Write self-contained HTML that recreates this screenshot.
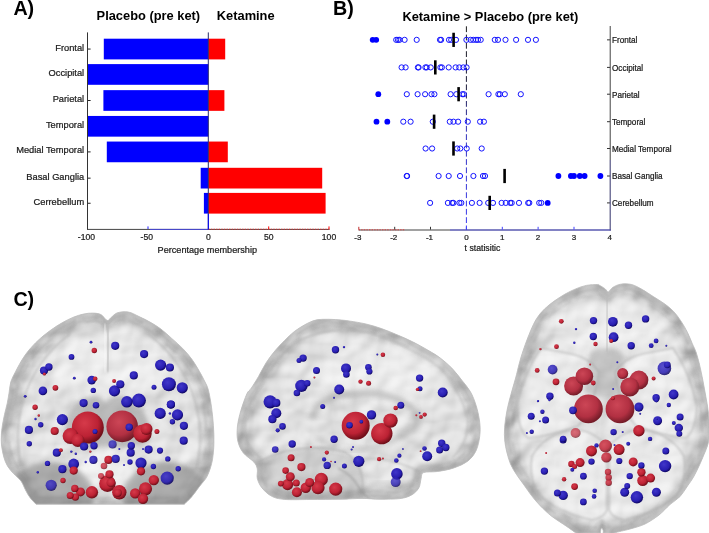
<!DOCTYPE html>
<html lang="en"><head><meta charset="utf-8"><title>Figure</title>
<style>html,body{margin:0;padding:0;background:#fff}body{width:709px;height:533px;overflow:hidden}svg{display:block}text{font-family:"Liberation Sans",Arial,sans-serif;fill:#1a1a1a;stroke:#1a1a1a;stroke-width:0.22px}.b{font-weight:bold;fill:#000;stroke:none}</style></head><body>
<svg width="709" height="533" viewBox="0 0 709 533">
<rect width="709" height="533" fill="#fff"/>
<text class="b" x="13.4" y="14.5" font-size="19.7">A)</text>
<text class="b" x="333.0" y="14.5" font-size="19.7">B)</text>
<text class="b" x="13.4" y="306.1" font-size="19.7">C)</text>
<text class="b" x="96.6" y="20.2" font-size="12.85">Placebo (pre ket)</text>
<text class="b" x="216.8" y="20.2" font-size="12.85">Ketamine</text>
<rect x="88.0" y="48.55" width="2.6" height="1" fill="#222"/>
<rect x="103.8" y="38.70" width="104.5" height="20.7" fill="#0000ff"/>
<rect x="208.3" y="38.70" width="16.9" height="20.7" fill="#ff0000"/>
<text x="84.2" y="50.55" font-size="9.3" text-anchor="end">Frontal</text>
<rect x="88.0" y="73.95" width="2.6" height="1" fill="#222"/>
<rect x="88.0" y="64.10" width="120.3" height="20.7" fill="#0000ff"/>
<text x="84.2" y="75.95" font-size="9.3" text-anchor="end">Occipital</text>
<rect x="88.0" y="100.00" width="2.6" height="1" fill="#222"/>
<rect x="103.4" y="90.15" width="104.9" height="20.7" fill="#0000ff"/>
<rect x="208.3" y="90.15" width="16.1" height="20.7" fill="#ff0000"/>
<text x="84.2" y="102.00" font-size="9.3" text-anchor="end">Parietal</text>
<rect x="88.0" y="125.80" width="2.6" height="1" fill="#222"/>
<rect x="88.0" y="115.95" width="120.3" height="20.7" fill="#0000ff"/>
<text x="84.2" y="127.80" font-size="9.3" text-anchor="end">Temporal</text>
<rect x="88.0" y="151.40" width="2.6" height="1" fill="#222"/>
<rect x="106.8" y="141.55" width="101.5" height="20.7" fill="#0000ff"/>
<rect x="208.3" y="141.55" width="19.5" height="20.7" fill="#ff0000"/>
<text x="84.2" y="153.40" font-size="9.3" text-anchor="end">Medial Temporal</text>
<rect x="88.0" y="177.65" width="2.6" height="1" fill="#222"/>
<rect x="200.7" y="167.80" width="7.6" height="20.7" fill="#0000ff"/>
<rect x="208.3" y="167.80" width="113.9" height="20.7" fill="#ff0000"/>
<text x="84.2" y="179.65" font-size="9.3" text-anchor="end">Basal Ganglia</text>
<rect x="88.0" y="202.75" width="2.6" height="1" fill="#222"/>
<rect x="203.9" y="192.90" width="4.4" height="20.7" fill="#0000ff"/>
<rect x="208.3" y="192.90" width="117.3" height="20.7" fill="#ff0000"/>
<text x="84.2" y="204.75" font-size="9.3" text-anchor="end">Cerrebellum</text>
<rect x="87.0" y="32.4" width="1" height="197.5" fill="#333"/>
<rect x="87.0" y="228.9" width="242.6" height="1" fill="#444"/>
<rect x="150" y="228.9" width="58.3" height="1" fill="#4040ff" opacity="0.75"/>
<line x1="208.3" y1="229.2" x2="329.6" y2="229.2" stroke="#ff2020" stroke-width="0.9" stroke-dasharray="1.4 1.2" opacity="0.9"/>
<rect x="207.8" y="32.4" width="1" height="197.0" fill="#2a2a6a"/>
<rect x="207.8" y="214" width="1" height="15.4" fill="#0000ff"/>
<text x="86.4" y="240.4" font-size="8.6" text-anchor="middle">-100</text>
<rect x="147.5" y="226.4" width="1" height="2.6" fill="#2020ff"/>
<text x="146.8" y="240.4" font-size="8.6" text-anchor="middle">-50</text>
<text x="208.3" y="240.4" font-size="8.6" text-anchor="middle">0</text>
<rect x="268.2" y="226.4" width="1" height="2.6" fill="#ff0000"/>
<text x="268.7" y="240.4" font-size="8.6" text-anchor="middle">50</text>
<rect x="328.5" y="226.4" width="1" height="2.6" fill="#ff0000"/>
<text x="329.0" y="240.4" font-size="8.6" text-anchor="middle">100</text>
<text x="207.3" y="252.6" font-size="9.15" text-anchor="middle">Percentage membership</text>
<text class="b" x="402.4" y="20.9" font-size="12.85">Ketamine &gt; Placebo (pre ket)</text>
<defs><linearGradient id="zl" gradientUnits="userSpaceOnUse" x1="0" y1="26.0" x2="0" y2="230.0"><stop offset="0" stop-color="#1c1c1c"/><stop offset="0.3" stop-color="#1c1c3a"/><stop offset="0.5" stop-color="#3030b8"/><stop offset="1" stop-color="#3a3af0"/></linearGradient></defs>
<path d="M466.4,26.3V230.0" stroke="url(#zl)" stroke-width="1" stroke-dasharray="5.8 2.5" fill="none"/>
<circle cx="396.2" cy="39.85" r="2.6" fill="none" stroke="#1414ff" stroke-width="1.0"/>
<circle cx="398.0" cy="39.85" r="2.6" fill="none" stroke="#1414ff" stroke-width="1.0"/>
<circle cx="399.5" cy="39.85" r="2.6" fill="none" stroke="#1414ff" stroke-width="1.0"/>
<circle cx="404.6" cy="39.85" r="2.6" fill="none" stroke="#1414ff" stroke-width="1.0"/>
<circle cx="416.7" cy="39.85" r="2.6" fill="none" stroke="#1414ff" stroke-width="1.0"/>
<circle cx="440.0" cy="39.85" r="2.6" fill="none" stroke="#1414ff" stroke-width="1.0"/>
<circle cx="441.1" cy="39.85" r="2.6" fill="none" stroke="#1414ff" stroke-width="1.0"/>
<circle cx="449.0" cy="39.85" r="2.6" fill="none" stroke="#1414ff" stroke-width="1.0"/>
<circle cx="451.2" cy="39.85" r="2.6" fill="none" stroke="#1414ff" stroke-width="1.0"/>
<circle cx="456.0" cy="39.85" r="2.6" fill="none" stroke="#1414ff" stroke-width="1.0"/>
<circle cx="466.4" cy="39.85" r="2.6" fill="none" stroke="#1414ff" stroke-width="1.0"/>
<circle cx="470.6" cy="39.85" r="2.6" fill="none" stroke="#1414ff" stroke-width="1.0"/>
<circle cx="473.2" cy="39.85" r="2.6" fill="none" stroke="#1414ff" stroke-width="1.0"/>
<circle cx="476.0" cy="39.85" r="2.6" fill="none" stroke="#1414ff" stroke-width="1.0"/>
<circle cx="478.0" cy="39.85" r="2.6" fill="none" stroke="#1414ff" stroke-width="1.0"/>
<circle cx="480.7" cy="39.85" r="2.6" fill="none" stroke="#1414ff" stroke-width="1.0"/>
<circle cx="494.8" cy="39.85" r="2.6" fill="none" stroke="#1414ff" stroke-width="1.0"/>
<circle cx="498.0" cy="39.85" r="2.6" fill="none" stroke="#1414ff" stroke-width="1.0"/>
<circle cx="505.5" cy="39.85" r="2.6" fill="none" stroke="#1414ff" stroke-width="1.0"/>
<circle cx="516.1" cy="39.85" r="2.6" fill="none" stroke="#1414ff" stroke-width="1.0"/>
<circle cx="528.0" cy="39.85" r="2.6" fill="none" stroke="#1414ff" stroke-width="1.0"/>
<circle cx="535.9" cy="39.85" r="2.6" fill="none" stroke="#1414ff" stroke-width="1.0"/>
<circle cx="372.7" cy="39.85" r="2.9" fill="#0000ff"/>
<circle cx="376.2" cy="39.85" r="2.9" fill="#0000ff"/>
<rect x="452.3" y="32.75" width="2.6" height="14.2" fill="#000"/>
<rect x="607.0" y="39.35" width="3.2" height="1" fill="#333"/>
<text x="612.0" y="43.15" font-size="8.15">Frontal</text>
<circle cx="401.6" cy="67.40" r="2.6" fill="none" stroke="#1414ff" stroke-width="1.0"/>
<circle cx="405.6" cy="67.40" r="2.6" fill="none" stroke="#1414ff" stroke-width="1.0"/>
<circle cx="417.9" cy="67.40" r="2.6" fill="none" stroke="#1414ff" stroke-width="1.0"/>
<circle cx="418.6" cy="67.40" r="2.6" fill="none" stroke="#1414ff" stroke-width="1.0"/>
<circle cx="425.4" cy="67.40" r="2.6" fill="none" stroke="#1414ff" stroke-width="1.0"/>
<circle cx="426.7" cy="67.40" r="2.6" fill="none" stroke="#1414ff" stroke-width="1.0"/>
<circle cx="430.7" cy="67.40" r="2.6" fill="none" stroke="#1414ff" stroke-width="1.0"/>
<circle cx="440.4" cy="67.40" r="2.6" fill="none" stroke="#1414ff" stroke-width="1.0"/>
<circle cx="441.9" cy="67.40" r="2.6" fill="none" stroke="#1414ff" stroke-width="1.0"/>
<circle cx="448.7" cy="67.40" r="2.6" fill="none" stroke="#1414ff" stroke-width="1.0"/>
<circle cx="455.6" cy="67.40" r="2.6" fill="none" stroke="#1414ff" stroke-width="1.0"/>
<circle cx="459.3" cy="67.40" r="2.6" fill="none" stroke="#1414ff" stroke-width="1.0"/>
<circle cx="463.3" cy="67.40" r="2.6" fill="none" stroke="#1414ff" stroke-width="1.0"/>
<circle cx="466.6" cy="67.40" r="2.6" fill="none" stroke="#1414ff" stroke-width="1.0"/>
<rect x="434.0" y="60.30" width="2.6" height="14.2" fill="#000"/>
<rect x="607.0" y="66.90" width="3.2" height="1" fill="#333"/>
<text x="612.0" y="70.70" font-size="8.15">Occipital</text>
<circle cx="406.8" cy="94.20" r="2.6" fill="none" stroke="#1414ff" stroke-width="1.0"/>
<circle cx="417.6" cy="94.20" r="2.6" fill="none" stroke="#1414ff" stroke-width="1.0"/>
<circle cx="425.1" cy="94.20" r="2.6" fill="none" stroke="#1414ff" stroke-width="1.0"/>
<circle cx="431.5" cy="94.20" r="2.6" fill="none" stroke="#1414ff" stroke-width="1.0"/>
<circle cx="434.4" cy="94.20" r="2.6" fill="none" stroke="#1414ff" stroke-width="1.0"/>
<circle cx="450.6" cy="94.20" r="2.6" fill="none" stroke="#1414ff" stroke-width="1.0"/>
<circle cx="456.3" cy="94.20" r="2.6" fill="none" stroke="#1414ff" stroke-width="1.0"/>
<circle cx="462.3" cy="94.20" r="2.6" fill="none" stroke="#1414ff" stroke-width="1.0"/>
<circle cx="463.8" cy="94.20" r="2.6" fill="none" stroke="#1414ff" stroke-width="1.0"/>
<circle cx="488.6" cy="94.20" r="2.6" fill="none" stroke="#1414ff" stroke-width="1.0"/>
<circle cx="498.4" cy="94.20" r="2.6" fill="none" stroke="#1414ff" stroke-width="1.0"/>
<circle cx="499.9" cy="94.20" r="2.6" fill="none" stroke="#1414ff" stroke-width="1.0"/>
<circle cx="504.8" cy="94.20" r="2.6" fill="none" stroke="#1414ff" stroke-width="1.0"/>
<circle cx="520.8" cy="94.20" r="2.6" fill="none" stroke="#1414ff" stroke-width="1.0"/>
<circle cx="378.3" cy="94.20" r="2.9" fill="#0000ff"/>
<rect x="457.3" y="87.10" width="2.6" height="14.2" fill="#000"/>
<rect x="607.0" y="93.70" width="3.2" height="1" fill="#333"/>
<text x="612.0" y="97.50" font-size="8.15">Parietal</text>
<circle cx="403.3" cy="121.70" r="2.6" fill="none" stroke="#1414ff" stroke-width="1.0"/>
<circle cx="410.6" cy="121.70" r="2.6" fill="none" stroke="#1414ff" stroke-width="1.0"/>
<circle cx="432.8" cy="121.70" r="2.6" fill="none" stroke="#1414ff" stroke-width="1.0"/>
<circle cx="449.8" cy="121.70" r="2.6" fill="none" stroke="#1414ff" stroke-width="1.0"/>
<circle cx="453.5" cy="121.70" r="2.6" fill="none" stroke="#1414ff" stroke-width="1.0"/>
<circle cx="458.1" cy="121.70" r="2.6" fill="none" stroke="#1414ff" stroke-width="1.0"/>
<circle cx="467.8" cy="121.70" r="2.6" fill="none" stroke="#1414ff" stroke-width="1.0"/>
<circle cx="480.1" cy="121.70" r="2.6" fill="none" stroke="#1414ff" stroke-width="1.0"/>
<circle cx="483.9" cy="121.70" r="2.6" fill="none" stroke="#1414ff" stroke-width="1.0"/>
<circle cx="376.5" cy="121.70" r="2.9" fill="#0000ff"/>
<circle cx="387.3" cy="121.70" r="2.9" fill="#0000ff"/>
<rect x="432.8" y="114.60" width="2.6" height="14.2" fill="#000"/>
<rect x="607.0" y="121.20" width="3.2" height="1" fill="#333"/>
<text x="612.0" y="125.00" font-size="8.15">Temporal</text>
<circle cx="425.6" cy="148.50" r="2.6" fill="none" stroke="#1414ff" stroke-width="1.0"/>
<circle cx="432.1" cy="148.50" r="2.6" fill="none" stroke="#1414ff" stroke-width="1.0"/>
<circle cx="457.2" cy="148.50" r="2.6" fill="none" stroke="#1414ff" stroke-width="1.0"/>
<circle cx="460.3" cy="148.50" r="2.6" fill="none" stroke="#1414ff" stroke-width="1.0"/>
<circle cx="466.7" cy="148.50" r="2.6" fill="none" stroke="#1414ff" stroke-width="1.0"/>
<circle cx="481.7" cy="148.50" r="2.6" fill="none" stroke="#1414ff" stroke-width="1.0"/>
<rect x="452.2" y="141.40" width="2.6" height="14.2" fill="#000"/>
<rect x="607.0" y="148.00" width="3.2" height="1" fill="#333"/>
<text x="612.0" y="151.80" font-size="8.15">Medial Temporal</text>
<circle cx="406.7" cy="176.00" r="2.6" fill="none" stroke="#1414ff" stroke-width="1.0"/>
<circle cx="407.1" cy="176.00" r="2.6" fill="none" stroke="#1414ff" stroke-width="1.0"/>
<circle cx="438.6" cy="176.00" r="2.6" fill="none" stroke="#1414ff" stroke-width="1.0"/>
<circle cx="448.7" cy="176.00" r="2.6" fill="none" stroke="#1414ff" stroke-width="1.0"/>
<circle cx="460.0" cy="176.00" r="2.6" fill="none" stroke="#1414ff" stroke-width="1.0"/>
<circle cx="473.4" cy="176.00" r="2.6" fill="none" stroke="#1414ff" stroke-width="1.0"/>
<circle cx="483.0" cy="176.00" r="2.6" fill="none" stroke="#1414ff" stroke-width="1.0"/>
<circle cx="485.0" cy="176.00" r="2.6" fill="none" stroke="#1414ff" stroke-width="1.0"/>
<circle cx="558.4" cy="176.00" r="2.9" fill="#0000ff"/>
<circle cx="570.9" cy="176.00" r="2.9" fill="#0000ff"/>
<circle cx="574.0" cy="176.00" r="2.9" fill="#0000ff"/>
<circle cx="579.8" cy="176.00" r="2.9" fill="#0000ff"/>
<circle cx="584.6" cy="176.00" r="2.9" fill="#0000ff"/>
<circle cx="600.4" cy="176.00" r="2.9" fill="#0000ff"/>
<rect x="503.3" y="168.90" width="2.6" height="14.2" fill="#000"/>
<rect x="607.0" y="175.50" width="3.2" height="1" fill="#333"/>
<text x="612.0" y="179.30" font-size="8.15">Basal Ganglia</text>
<circle cx="430.1" cy="202.90" r="2.6" fill="none" stroke="#1414ff" stroke-width="1.0"/>
<circle cx="447.9" cy="202.90" r="2.6" fill="none" stroke="#1414ff" stroke-width="1.0"/>
<circle cx="452.1" cy="202.90" r="2.6" fill="none" stroke="#1414ff" stroke-width="1.0"/>
<circle cx="453.4" cy="202.90" r="2.6" fill="none" stroke="#1414ff" stroke-width="1.0"/>
<circle cx="459.4" cy="202.90" r="2.6" fill="none" stroke="#1414ff" stroke-width="1.0"/>
<circle cx="461.3" cy="202.90" r="2.6" fill="none" stroke="#1414ff" stroke-width="1.0"/>
<circle cx="471.9" cy="202.90" r="2.6" fill="none" stroke="#1414ff" stroke-width="1.0"/>
<circle cx="479.6" cy="202.90" r="2.6" fill="none" stroke="#1414ff" stroke-width="1.0"/>
<circle cx="488.2" cy="202.90" r="2.6" fill="none" stroke="#1414ff" stroke-width="1.0"/>
<circle cx="493.0" cy="202.90" r="2.6" fill="none" stroke="#1414ff" stroke-width="1.0"/>
<circle cx="501.6" cy="202.90" r="2.6" fill="none" stroke="#1414ff" stroke-width="1.0"/>
<circle cx="505.8" cy="202.90" r="2.6" fill="none" stroke="#1414ff" stroke-width="1.0"/>
<circle cx="510.2" cy="202.90" r="2.6" fill="none" stroke="#1414ff" stroke-width="1.0"/>
<circle cx="511.7" cy="202.90" r="2.6" fill="none" stroke="#1414ff" stroke-width="1.0"/>
<circle cx="519.0" cy="202.90" r="2.6" fill="none" stroke="#1414ff" stroke-width="1.0"/>
<circle cx="528.2" cy="202.90" r="2.6" fill="none" stroke="#1414ff" stroke-width="1.0"/>
<circle cx="529.3" cy="202.90" r="2.6" fill="none" stroke="#1414ff" stroke-width="1.0"/>
<circle cx="539.2" cy="202.90" r="2.6" fill="none" stroke="#1414ff" stroke-width="1.0"/>
<circle cx="541.3" cy="202.90" r="2.6" fill="none" stroke="#1414ff" stroke-width="1.0"/>
<circle cx="547.7" cy="202.90" r="2.9" fill="#0000ff"/>
<rect x="488.4" y="195.80" width="2.6" height="14.2" fill="#000"/>
<rect x="607.0" y="202.40" width="3.2" height="1" fill="#333"/>
<text x="612.0" y="206.20" font-size="8.15">Cerebellum</text>
<rect x="609.7" y="26.0" width="1" height="204.5" fill="#444"/>
<rect x="609.7" y="160" width="1" height="70.5" fill="#6060ff" opacity="0.35"/>
<rect x="358.6" y="229.5" width="252.1" height="1" fill="#444"/>
<rect x="450" y="229.5" width="160.7" height="1" fill="#5050ff" opacity="0.75"/>
<line x1="358.6" y1="229.8" x2="405" y2="229.8" stroke="#ff2020" stroke-width="0.9" stroke-dasharray="1.4 1.2" opacity="0.85"/>
<rect x="358.3" y="226.8" width="1" height="2.8" fill="#c03030"/>
<text x="357.8" y="240.0" font-size="8" text-anchor="middle">-3</text>
<rect x="394.2" y="226.8" width="1" height="2.8" fill="#333"/>
<text x="393.7" y="240.0" font-size="8" text-anchor="middle">-2</text>
<rect x="430.0" y="226.8" width="1" height="2.8" fill="#333"/>
<text x="429.5" y="240.0" font-size="8" text-anchor="middle">-1</text>
<rect x="465.9" y="226.8" width="1" height="2.8" fill="#4040ff"/>
<text x="466.4" y="240.0" font-size="8" text-anchor="middle">0</text>
<rect x="501.8" y="226.8" width="1" height="2.8" fill="#4040ff"/>
<text x="502.2" y="240.0" font-size="8" text-anchor="middle">1</text>
<rect x="537.6" y="226.8" width="1" height="2.8" fill="#4040ff"/>
<text x="538.1" y="240.0" font-size="8" text-anchor="middle">2</text>
<rect x="573.5" y="226.8" width="1" height="2.8" fill="#4040ff"/>
<text x="574.0" y="240.0" font-size="8" text-anchor="middle">3</text>
<text x="609.8" y="240.0" font-size="8" text-anchor="middle">4</text>
<text x="464.6" y="250.9" font-size="8.7">t statisitic</text>
<defs>
<radialGradient id="gr" cx="0.40" cy="0.36" r="0.64"><stop offset="0" stop-color="#d63a4a"/><stop offset="0.65" stop-color="#bc2234"/><stop offset="1" stop-color="#6e0e18"/></radialGradient>
<radialGradient id="gd" cx="0.40" cy="0.36" r="0.64"><stop offset="0" stop-color="#cc4656"/><stop offset="0.65" stop-color="#b23042"/><stop offset="1" stop-color="#741c28"/></radialGradient>
<radialGradient id="gb" cx="0.40" cy="0.36" r="0.64"><stop offset="0" stop-color="#4036ca"/><stop offset="0.7" stop-color="#281eb0"/><stop offset="1" stop-color="#0e0660"/></radialGradient>
<filter id="bl2" x="-20%" y="-20%" width="140%" height="140%"><feGaussianBlur stdDeviation="2"/></filter>
<filter id="bl4" x="-20%" y="-20%" width="140%" height="140%"><feGaussianBlur stdDeviation="4"/></filter>
<filter id="bl7" x="-30%" y="-30%" width="160%" height="160%"><feGaussianBlur stdDeviation="7"/></filter>
<filter id="bl1" x="-20%" y="-20%" width="140%" height="140%"><feGaussianBlur stdDeviation="0.8"/></filter>
<filter id="bump1" x="0" y="0" width="100%" height="100%" color-interpolation-filters="sRGB"><feTurbulence type="fractalNoise" baseFrequency="0.045" numOctaves="2" seed="3" result="n"/><feDiffuseLighting in="n" surfaceScale="2.4" diffuseConstant="1.0" lighting-color="#f0f0f0" result="l"><feDistantLight azimuth="240" elevation="60"/></feDiffuseLighting><feComposite in="l" in2="SourceGraphic" operator="in"/></filter>
<filter id="bump2" x="0" y="0" width="100%" height="100%" color-interpolation-filters="sRGB"><feTurbulence type="fractalNoise" baseFrequency="0.045" numOctaves="2" seed="11" result="n"/><feDiffuseLighting in="n" surfaceScale="2.4" diffuseConstant="1.0" lighting-color="#f0f0f0" result="l"><feDistantLight azimuth="240" elevation="60"/></feDiffuseLighting><feComposite in="l" in2="SourceGraphic" operator="in"/></filter>
<filter id="bump3" x="0" y="0" width="100%" height="100%" color-interpolation-filters="sRGB"><feTurbulence type="fractalNoise" baseFrequency="0.045" numOctaves="2" seed="7" result="n"/><feDiffuseLighting in="n" surfaceScale="2.4" diffuseConstant="1.0" lighting-color="#f0f0f0" result="l"><feDistantLight azimuth="240" elevation="60"/></feDiffuseLighting><feComposite in="l" in2="SourceGraphic" operator="in"/></filter>
<clipPath id="c1"><path d="M36.0,504.2C35.0,503.1 31.8,500.0 30.0,497.6C28.2,495.2 27.0,492.8 25.5,490.0C24.0,487.2 23.0,483.8 21.0,481.0C19.0,478.2 15.8,476.0 13.5,473.5C11.2,471.0 9.1,468.8 7.5,466.0C5.9,463.2 4.8,460.5 3.8,457.0C2.8,453.5 1.9,448.7 1.5,445.0C1.1,441.3 1.3,438.2 1.4,435.0C1.5,431.8 1.8,429.4 2.3,426.0C2.8,422.6 3.7,418.3 4.5,414.5C5.3,410.7 6.5,406.8 7.3,403.0C8.1,399.2 8.6,395.5 9.2,392.0C9.8,388.5 9.8,385.4 10.8,382.0C11.9,378.6 13.4,375.7 15.5,371.7C17.6,367.7 20.7,361.8 23.3,357.8C25.9,353.8 28.2,350.9 31.0,347.7C33.8,344.5 36.9,341.4 40.3,338.4C43.7,335.4 47.6,332.4 51.2,329.8C54.8,327.2 58.5,324.9 62.1,322.8C65.7,320.7 69.3,318.9 72.9,317.4C76.5,315.9 80.4,314.7 83.8,314.0C87.2,313.3 90.2,313.0 93.1,313.1C95.9,313.2 98.6,313.4 100.9,314.6C103.2,315.8 105.5,320.0 107.2,320.5C108.9,321.0 109.5,318.7 111.2,317.4C112.9,316.1 114.6,313.7 117.4,312.8C120.2,311.9 124.7,311.4 128.3,312.0C131.9,312.6 135.5,314.9 139.1,316.6C142.7,318.3 146.4,320.0 150.0,322.1C153.6,324.2 157.3,326.3 160.9,329.0C164.5,331.7 168.1,335.2 171.7,338.4C175.3,341.6 179.2,344.9 182.6,348.4C186.0,351.9 189.1,355.4 191.9,359.3C194.7,363.2 197.5,368.1 199.6,371.7C201.7,375.3 203.0,377.9 204.5,381.0C206.0,384.1 207.2,385.7 208.4,390.2C209.6,394.7 210.8,402.0 211.6,407.9C212.4,413.8 213.0,419.7 213.4,425.6C213.8,431.5 214.1,437.5 213.9,443.4C213.7,449.3 213.3,455.5 212.2,461.0C211.1,466.5 209.2,472.1 207.1,476.3C205.0,480.5 202.0,483.0 199.5,486.4C197.0,489.8 194.4,493.5 191.9,496.5C189.4,499.5 185.6,502.9 184.3,504.2Z"/></clipPath>
<clipPath id="c2"><path d="M284.3,499.4C277.9,498.8 275.1,498.0 271.4,496.1C267.7,494.2 264.4,490.8 262.0,487.9C259.6,485.0 258.1,481.6 257.3,478.5C256.5,475.4 257.9,471.8 257.3,469.0C256.7,466.2 256.2,464.7 253.8,462.0C251.5,459.3 245.9,456.2 243.2,452.7C240.5,449.2 238.8,445.3 237.8,441.0C236.8,436.7 236.9,432.0 237.4,426.9C237.9,421.8 239.3,416.0 240.9,410.5C242.5,405.0 245.1,397.8 246.8,394.0C248.6,390.2 249.5,390.9 251.4,388.0C253.3,385.1 255.9,380.9 258.4,376.7C260.8,372.5 263.3,367.2 266.1,362.8C268.9,358.4 272.3,354.1 275.4,350.3C278.5,346.6 281.7,343.4 284.8,340.3C287.9,337.2 290.8,334.3 294.1,331.7C297.5,329.1 301.3,326.6 304.9,324.7C308.5,322.8 311.9,321.0 315.8,320.1C319.7,319.2 323.8,319.3 328.2,319.3C332.6,319.3 338.3,319.8 342.0,320.1C345.7,320.4 346.5,320.6 350.5,321.2C354.5,321.8 360.8,322.8 366.0,324.0C371.2,325.2 376.3,326.8 381.5,328.6C386.7,330.4 391.9,332.6 397.1,334.8C402.3,337.0 407.4,339.2 412.6,341.8C417.8,344.4 423.5,347.6 428.1,350.3C432.8,353.0 436.6,355.2 440.5,358.2C444.4,361.2 448.2,364.4 451.8,368.1C455.4,371.8 458.9,376.5 462.0,380.4C465.1,384.3 468.0,387.5 470.4,391.7C472.8,395.9 474.6,400.7 476.2,405.8C477.8,410.9 479.1,417.1 479.7,422.2C480.3,427.3 480.3,431.6 479.7,436.3C479.1,441.0 478.1,446.3 476.2,450.4C474.2,454.5 471.7,458.0 468.0,460.9C464.3,463.8 459.0,466.1 453.9,467.9C448.8,469.7 442.6,470.7 437.5,471.5C432.4,472.3 426.2,471.4 423.5,472.6C420.8,473.8 421.9,475.9 421.1,478.5C420.3,481.1 420.4,485.2 418.8,487.9C417.2,490.6 414.8,493.1 411.7,494.9C408.6,496.7 405.3,497.9 400.0,498.6C394.7,499.3 386.3,499.2 380.0,499.2C373.7,499.2 368.7,498.4 362.0,498.4C355.3,498.4 348.7,499.1 340.0,499.3C331.3,499.5 319.3,499.5 310.0,499.5C300.7,499.5 290.7,500.0 284.3,499.4Z"/></clipPath>
<clipPath id="c3"><path d="M600.3,536.0C600.3,535.1 600.4,531.8 600.6,530.5C600.9,529.2 601.4,528.0 601.8,528.0C602.2,528.0 602.8,529.2 603.2,530.5C603.6,531.8 602.5,535.1 604.0,536.0C605.5,536.9 610.2,536.5 612.0,536.0C613.8,535.5 611.5,534.2 614.5,533.0C617.5,531.8 624.9,530.5 630.0,529.0C635.1,527.5 640.2,526.3 645.0,524.0C649.8,521.7 654.8,518.2 659.0,515.0C663.2,511.8 666.5,507.6 670.0,504.5C673.5,501.4 677.1,499.7 680.0,496.6C682.9,493.5 685.2,489.3 687.5,486.0C689.8,482.7 691.5,480.5 693.5,477.0C695.5,473.5 697.8,468.8 699.5,465.0C701.2,461.2 702.6,458.0 704.0,454.5C705.4,451.0 707.1,447.8 708.0,444.0C708.9,440.2 709.2,437.1 709.3,432.0C709.4,426.9 709.1,419.2 708.5,413.3C707.9,407.4 706.8,402.4 705.9,396.9C705.0,391.4 704.0,386.0 702.9,380.5C701.8,375.0 700.5,368.9 699.4,364.1C698.2,359.4 697.2,355.5 696.0,352.0C694.8,348.5 693.5,346.5 692.1,343.2C690.7,339.9 689.2,335.9 687.4,332.3C685.6,328.7 683.5,324.9 681.2,321.4C678.9,317.9 676.3,314.4 673.5,311.4C670.7,308.4 667.6,306.1 664.2,303.6C660.8,301.1 656.9,298.9 653.3,296.6C649.7,294.3 646.0,291.6 642.4,289.6C638.8,287.6 635.2,285.4 631.6,284.5C628.0,283.6 623.8,283.7 620.7,284.2C617.6,284.7 615.1,286.0 613.0,287.3C610.9,288.6 609.6,291.7 608.3,292.0C607.0,292.3 606.8,290.1 605.2,288.9C603.7,287.7 600.3,285.7 599.0,285.0C597.7,284.3 599.4,284.4 597.3,284.5C595.2,284.6 590.0,284.7 586.4,285.4C582.8,286.1 579.2,287.4 575.6,288.9C572.0,290.4 568.3,292.2 564.7,294.3C561.1,296.4 557.3,298.9 553.9,301.3C550.5,303.8 547.4,306.2 544.5,309.0C541.6,311.8 539.1,314.7 536.8,318.3C534.5,321.9 532.5,326.4 530.6,330.8C528.7,335.2 526.7,340.5 525.2,344.7C523.7,348.9 522.4,352.8 521.4,356.0C520.4,359.2 520.1,360.4 519.1,364.1C518.1,367.8 517.0,373.0 515.6,378.1C514.2,383.2 512.4,389.1 510.9,394.6C509.4,400.1 507.9,405.5 506.9,411.0C505.8,416.5 505.0,422.4 504.6,427.4C504.2,432.4 504.4,436.9 504.8,441.0C505.2,445.1 505.9,448.2 506.8,452.0C507.8,455.8 508.9,460.2 510.5,464.0C512.1,467.8 514.2,471.0 516.5,474.5C518.8,478.0 521.5,481.5 524.0,485.0C526.5,488.5 528.8,492.1 531.5,495.6C534.2,499.1 537.1,502.5 540.5,506.0C543.9,509.5 547.6,513.1 552.0,516.5C556.4,519.9 562.7,523.6 566.7,526.4C570.7,529.1 573.5,531.4 576.0,533.0C578.5,534.6 581.0,535.5 582.0,536.0Z"/></clipPath>
</defs>
<g>
<g clip-path="url(#c1)">
<rect x="0" y="308" width="218" height="200" fill="#fff" filter="url(#bump1)"/>
<path d="M46.1,494.1C24.0,493.1 42.4,490.4 40.9,488.3C39.4,486.2 38.3,484.0 37.0,481.6C35.8,479.2 34.9,476.1 33.2,473.7C31.5,471.3 28.7,469.3 26.7,467.1C24.8,464.9 23.0,462.9 21.6,460.5C20.2,458.1 19.2,455.6 18.4,452.6C17.5,449.5 16.8,445.2 16.4,442.0C16.1,438.8 16.2,436.0 16.3,433.2C16.4,430.4 16.7,428.3 17.1,425.3C17.5,422.3 18.3,418.5 19.0,415.2C19.7,411.8 20.7,408.3 21.4,405.0C22.1,401.7 22.5,398.4 23.0,395.4C23.5,392.3 23.5,389.5 24.4,386.6C25.3,383.6 26.7,381.0 28.5,377.5C30.2,373.9 32.9,368.8 35.2,365.3C37.4,361.7 39.3,359.2 41.8,356.4C44.2,353.5 46.9,350.8 49.8,348.2C52.7,345.6 56.0,342.9 59.2,340.6C62.3,338.3 65.4,336.3 68.5,334.5C71.6,332.6 74.7,331.0 77.8,329.7C80.9,328.4 84.3,327.4 87.2,326.7C90.1,326.1 92.7,325.8 95.2,325.9C97.6,326.0 99.9,326.2 101.9,327.2C103.9,328.3 105.8,332.0 107.3,332.4C108.8,332.9 109.3,330.8 110.8,329.7C112.2,328.6 113.6,326.5 116.1,325.7C118.5,324.9 122.3,324.4 125.5,325.0C128.6,325.5 131.6,327.5 134.7,329.0C137.9,330.5 141.0,332.0 144.1,333.8C147.2,335.7 150.4,337.5 153.5,339.9C156.6,342.3 159.7,345.3 162.8,348.2C165.9,351.0 169.3,353.9 172.2,357.0C175.1,360.1 177.7,363.2 180.2,366.6C182.6,370.0 185.0,374.3 186.8,377.5C188.6,380.7 189.7,383.0 191.0,385.7C192.3,388.4 193.3,389.8 194.3,393.8C195.4,397.7 196.4,404.2 197.1,409.4C197.8,414.5 198.3,419.7 198.6,424.9C199.0,430.1 199.2,435.4 199.1,440.6C198.9,445.8 198.6,451.3 197.6,456.1C196.6,460.9 195.0,465.8 193.2,469.5C191.4,473.3 188.9,475.5 186.7,478.4C184.5,481.4 182.3,484.7 180.2,487.3C178.0,489.9 196.0,493.0 173.6,494.1C151.3,495.2 68.2,495.1 46.1,494.1Z" fill="#fff" opacity="0.37" filter="url(#bl2)"/>
<path d="M36.0,504.2C35.0,503.1 31.8,500.0 30.0,497.6C28.2,495.2 27.0,492.8 25.5,490.0C24.0,487.2 23.0,483.8 21.0,481.0C19.0,478.2 15.8,476.0 13.5,473.5C11.2,471.0 9.1,468.8 7.5,466.0C5.9,463.2 4.8,460.5 3.8,457.0C2.8,453.5 1.9,448.7 1.5,445.0C1.1,441.3 1.3,438.2 1.4,435.0C1.5,431.8 1.8,429.4 2.3,426.0C2.8,422.6 3.7,418.3 4.5,414.5C5.3,410.7 6.5,406.8 7.3,403.0C8.1,399.2 8.6,395.5 9.2,392.0C9.8,388.5 9.8,385.4 10.8,382.0C11.9,378.6 13.4,375.7 15.5,371.7C17.6,367.7 20.7,361.8 23.3,357.8C25.9,353.8 28.2,350.9 31.0,347.7C33.8,344.5 36.9,341.4 40.3,338.4C43.7,335.4 47.6,332.4 51.2,329.8C54.8,327.2 58.5,324.9 62.1,322.8C65.7,320.7 69.3,318.9 72.9,317.4C76.5,315.9 80.4,314.7 83.8,314.0C87.2,313.3 90.2,313.0 93.1,313.1C95.9,313.2 98.6,313.4 100.9,314.6C103.2,315.8 105.5,320.0 107.2,320.5C108.9,321.0 109.5,318.7 111.2,317.4C112.9,316.1 114.6,313.7 117.4,312.8C120.2,311.9 124.7,311.4 128.3,312.0C131.9,312.6 135.5,314.9 139.1,316.6C142.7,318.3 146.4,320.0 150.0,322.1C153.6,324.2 157.3,326.3 160.9,329.0C164.5,331.7 168.1,335.2 171.7,338.4C175.3,341.6 179.2,344.9 182.6,348.4C186.0,351.9 189.1,355.4 191.9,359.3C194.7,363.2 197.5,368.1 199.6,371.7C201.7,375.3 203.0,377.9 204.5,381.0C206.0,384.1 207.2,385.7 208.4,390.2C209.6,394.7 210.8,402.0 211.6,407.9C212.4,413.8 213.0,419.7 213.4,425.6C213.8,431.5 214.1,437.5 213.9,443.4C213.7,449.3 213.3,455.5 212.2,461.0C211.1,466.5 209.2,472.1 207.1,476.3C205.0,480.5 202.0,483.0 199.5,486.4C197.0,489.8 194.4,493.5 191.9,496.5C189.4,499.5 185.6,502.9 184.3,504.2Z" fill="none" stroke="#8c8c8c" stroke-width="16" opacity="0.2" filter="url(#bl1)"/>
<path d="M36.0,504.2C35.0,503.1 31.8,500.0 30.0,497.6C28.2,495.2 27.0,492.8 25.5,490.0C24.0,487.2 23.0,483.8 21.0,481.0C19.0,478.2 15.8,476.0 13.5,473.5C11.2,471.0 9.1,468.8 7.5,466.0C5.9,463.2 4.8,460.5 3.8,457.0C2.8,453.5 1.9,448.7 1.5,445.0C1.1,441.3 1.3,438.2 1.4,435.0C1.5,431.8 1.8,429.4 2.3,426.0C2.8,422.6 3.7,418.3 4.5,414.5C5.3,410.7 6.5,406.8 7.3,403.0C8.1,399.2 8.6,395.5 9.2,392.0C9.8,388.5 9.8,385.4 10.8,382.0C11.9,378.6 13.4,375.7 15.5,371.7C17.6,367.7 20.7,361.8 23.3,357.8C25.9,353.8 28.2,350.9 31.0,347.7C33.8,344.5 36.9,341.4 40.3,338.4C43.7,335.4 47.6,332.4 51.2,329.8C54.8,327.2 58.5,324.9 62.1,322.8C65.7,320.7 69.3,318.9 72.9,317.4C76.5,315.9 80.4,314.7 83.8,314.0C87.2,313.3 90.2,313.0 93.1,313.1C95.9,313.2 98.6,313.4 100.9,314.6C103.2,315.8 105.5,320.0 107.2,320.5C108.9,321.0 109.5,318.7 111.2,317.4C112.9,316.1 114.6,313.7 117.4,312.8C120.2,311.9 124.7,311.4 128.3,312.0C131.9,312.6 135.5,314.9 139.1,316.6C142.7,318.3 146.4,320.0 150.0,322.1C153.6,324.2 157.3,326.3 160.9,329.0C164.5,331.7 168.1,335.2 171.7,338.4C175.3,341.6 179.2,344.9 182.6,348.4C186.0,351.9 189.1,355.4 191.9,359.3C194.7,363.2 197.5,368.1 199.6,371.7C201.7,375.3 203.0,377.9 204.5,381.0C206.0,384.1 207.2,385.7 208.4,390.2C209.6,394.7 210.8,402.0 211.6,407.9C212.4,413.8 213.0,419.7 213.4,425.6C213.8,431.5 214.1,437.5 213.9,443.4C213.7,449.3 213.3,455.5 212.2,461.0C211.1,466.5 209.2,472.1 207.1,476.3C205.0,480.5 202.0,483.0 199.5,486.4C197.0,489.8 194.4,493.5 191.9,496.5C189.4,499.5 185.6,502.9 184.3,504.2Z" fill="none" stroke="#909090" stroke-width="5" opacity="0.12" filter="url(#bl1)"/>
<path d="M38.7,501.0C14.0,499.9 34.6,496.9 33.0,494.7C31.3,492.4 30.1,490.0 28.6,487.3C27.2,484.7 26.2,481.3 24.3,478.7C22.4,476.0 19.3,473.9 17.1,471.5C14.9,469.1 12.9,466.9 11.3,464.3C9.8,461.6 8.7,459.0 7.8,455.6C6.8,452.2 5.9,447.6 5.5,444.1C5.2,440.5 5.3,437.5 5.5,434.4C5.6,431.4 5.8,429.1 6.3,425.8C6.8,422.5 7.6,418.4 8.4,414.7C9.2,411.0 10.4,407.3 11.1,403.6C11.9,400.0 12.4,396.4 13.0,393.1C13.5,389.7 13.5,386.7 14.5,383.4C15.5,380.2 17.0,377.4 19.0,373.5C21.0,369.7 24.0,364.0 26.5,360.2C29.0,356.3 31.2,353.6 33.9,350.4C36.7,347.3 39.6,344.4 42.9,341.5C46.1,338.6 49.9,335.7 53.4,333.2C56.9,330.7 60.4,328.5 63.8,326.5C67.3,324.5 70.8,322.7 74.2,321.3C77.7,319.9 81.5,318.7 84.7,318.0C88.0,317.3 90.9,317.1 93.7,317.2C96.4,317.3 98.9,317.4 101.2,318.6C103.4,319.8 105.6,323.8 107.2,324.3C108.9,324.7 109.4,322.5 111.1,321.3C112.7,320.1 114.3,317.7 117.0,316.9C119.8,316.0 124.0,315.5 127.5,316.1C131.0,316.7 134.4,318.9 137.9,320.5C141.4,322.1 144.9,323.8 148.4,325.8C151.9,327.8 155.4,329.8 158.9,332.5C162.4,335.1 165.8,338.4 169.3,341.5C172.8,344.6 176.5,347.8 179.8,351.1C183.0,354.5 186.0,357.9 188.7,361.6C191.4,365.3 194.1,370.1 196.1,373.5C198.1,377.0 199.4,379.5 200.8,382.5C202.2,385.4 203.4,387.0 204.6,391.3C205.7,395.6 206.9,402.7 207.7,408.4C208.5,414.0 209.0,419.7 209.4,425.4C209.8,431.1 210.1,436.8 209.9,442.5C209.7,448.2 209.3,454.2 208.2,459.4C207.2,464.7 205.4,470.1 203.3,474.2C201.3,478.2 198.5,480.6 196.0,483.9C193.6,487.1 191.1,490.7 188.7,493.6C186.3,496.4 206.4,499.8 181.4,501.0C156.4,502.2 63.5,502.1 38.7,501.0Z" fill="none" stroke="#8e8e8e" stroke-width="1.1" opacity="0.55" stroke-dasharray="16 7 25 10 9 14 30 8" stroke-linecap="round" filter="url(#bl1)"/>
<path d="M41.4,497.9C17.6,496.9 37.5,494.0 35.8,491.8C34.2,489.6 33.1,487.3 31.7,484.8C30.3,482.2 29.4,479.0 27.5,476.4C25.7,473.9 22.7,471.8 20.6,469.5C18.5,467.2 16.5,465.1 15.0,462.6C13.5,460.0 12.5,457.5 11.6,454.2C10.7,451.0 9.9,446.5 9.5,443.1C9.1,439.7 9.3,436.8 9.4,433.9C9.5,430.9 9.7,428.7 10.2,425.6C10.7,422.4 11.5,418.5 12.3,414.9C13.0,411.4 14.1,407.7 14.9,404.3C15.6,400.8 16.1,397.3 16.6,394.1C17.1,390.9 17.1,388.0 18.1,384.9C19.1,381.7 20.5,379.1 22.4,375.3C24.4,371.6 27.3,366.2 29.7,362.5C32.0,358.8 34.2,356.1 36.8,353.1C39.4,350.1 42.3,347.3 45.4,344.5C48.5,341.8 52.1,339.0 55.5,336.6C58.8,334.2 62.2,332.0 65.5,330.1C68.9,328.2 72.2,326.5 75.5,325.1C78.9,323.7 82.5,322.6 85.6,321.9C88.7,321.3 91.6,321.0 94.2,321.1C96.9,321.2 99.3,321.4 101.4,322.5C103.6,323.6 105.7,327.5 107.3,328.0C108.8,328.4 109.4,326.3 111.0,325.1C112.5,323.9 114.1,321.7 116.7,320.8C119.3,320.0 123.4,319.5 126.8,320.1C130.1,320.7 133.4,322.8 136.8,324.4C140.1,325.9 143.5,327.5 146.8,329.4C150.2,331.4 153.6,333.3 156.9,335.8C160.3,338.3 163.6,341.5 166.9,344.5C170.3,347.5 173.9,350.5 177.0,353.8C180.1,357.0 183.0,360.3 185.6,363.9C188.2,367.4 190.8,372.0 192.7,375.3C194.7,378.7 195.9,381.1 197.3,383.9C198.6,386.8 199.8,388.3 200.9,392.4C202.0,396.6 203.1,403.4 203.8,408.8C204.6,414.3 205.1,419.7 205.5,425.2C205.8,430.7 206.1,436.2 206.0,441.6C205.8,447.1 205.4,452.9 204.4,457.9C203.3,463.0 201.6,468.2 199.7,472.1C197.7,476.0 195.0,478.3 192.6,481.4C190.3,484.5 188.0,488.0 185.6,490.8C183.3,493.5 202.6,496.7 178.6,497.9C154.5,499.1 65.2,498.9 41.4,497.9Z" fill="none" stroke="#8e8e8e" stroke-width="1.1" opacity="0.4" stroke-dasharray="22 12 10 6 28 16 12 9" stroke-linecap="round" filter="url(#bl1)"/>
<ellipse cx="108" cy="368" rx="60" ry="30" fill="#fff" opacity="0.35" filter="url(#bl7)"/>
<path d="M66,440 Q60,412 84,398 Q100,392 106,404 Q112,392 128,398 Q152,412 150,440 Q128,452 108,446 Q88,452 66,440Z" fill="#989898" opacity="0.55" filter="url(#bl2)"/>
<path d="M10,484 Q20,464 50,462 Q80,464 92,484 L92,508 L24,508Z" fill="#848484" opacity="0.58" filter="url(#bl2)"/>
<path d="M206,484 Q196,464 166,462 Q136,464 124,484 L124,508 L192,508Z" fill="#848484" opacity="0.58" filter="url(#bl2)"/>
<ellipse cx="108" cy="470" rx="26" ry="22" fill="#fff" opacity="0.4" filter="url(#bl4)"/>
<path d="M22,470 Q12,430 26,392 Q40,356 70,334" fill="none" stroke="#a8a8a8" stroke-width="1.2" opacity="0.7" filter="url(#bl1)"/>
<path d="M196,470 Q206,430 192,392 Q178,356 148,334" fill="none" stroke="#a8a8a8" stroke-width="1.2" opacity="0.7" filter="url(#bl1)"/>
<path d="M107.2,320 Q108.5,340 107.5,372" stroke="#b8b8b8" stroke-width="2.2" fill="none" opacity="0.8" filter="url(#bl1)"/>
<path d="M100,316 L107.2,322 L114,315" stroke="#b0b0b0" stroke-width="1.5" fill="none" opacity="0.8" filter="url(#bl1)"/>
<path d="M104.6,324 Q105.6,345 104.8,372" stroke="#fafafa" stroke-width="1.6" fill="none" opacity="0.8" filter="url(#bl1)"/>
</g>
<path d="M36.0,504.2C35.0,503.1 31.8,500.0 30.0,497.6C28.2,495.2 27.0,492.8 25.5,490.0C24.0,487.2 23.0,483.8 21.0,481.0C19.0,478.2 15.8,476.0 13.5,473.5C11.2,471.0 9.1,468.8 7.5,466.0C5.9,463.2 4.8,460.5 3.8,457.0C2.8,453.5 1.9,448.7 1.5,445.0C1.1,441.3 1.3,438.2 1.4,435.0C1.5,431.8 1.8,429.4 2.3,426.0C2.8,422.6 3.7,418.3 4.5,414.5C5.3,410.7 6.5,406.8 7.3,403.0C8.1,399.2 8.6,395.5 9.2,392.0C9.8,388.5 9.8,385.4 10.8,382.0C11.9,378.6 13.4,375.7 15.5,371.7C17.6,367.7 20.7,361.8 23.3,357.8C25.9,353.8 28.2,350.9 31.0,347.7C33.8,344.5 36.9,341.4 40.3,338.4C43.7,335.4 47.6,332.4 51.2,329.8C54.8,327.2 58.5,324.9 62.1,322.8C65.7,320.7 69.3,318.9 72.9,317.4C76.5,315.9 80.4,314.7 83.8,314.0C87.2,313.3 90.2,313.0 93.1,313.1C95.9,313.2 98.6,313.4 100.9,314.6C103.2,315.8 105.5,320.0 107.2,320.5C108.9,321.0 109.5,318.7 111.2,317.4C112.9,316.1 114.6,313.7 117.4,312.8C120.2,311.9 124.7,311.4 128.3,312.0C131.9,312.6 135.5,314.9 139.1,316.6C142.7,318.3 146.4,320.0 150.0,322.1C153.6,324.2 157.3,326.3 160.9,329.0C164.5,331.7 168.1,335.2 171.7,338.4C175.3,341.6 179.2,344.9 182.6,348.4C186.0,351.9 189.1,355.4 191.9,359.3C194.7,363.2 197.5,368.1 199.6,371.7C201.7,375.3 203.0,377.9 204.5,381.0C206.0,384.1 207.2,385.7 208.4,390.2C209.6,394.7 210.8,402.0 211.6,407.9C212.4,413.8 213.0,419.7 213.4,425.6C213.8,431.5 214.1,437.5 213.9,443.4C213.7,449.3 213.3,455.5 212.2,461.0C211.1,466.5 209.2,472.1 207.1,476.3C205.0,480.5 202.0,483.0 199.5,486.4C197.0,489.8 194.4,493.5 191.9,496.5C189.4,499.5 185.6,502.9 184.3,504.2Z" fill="none" stroke="#bcbcbc" stroke-width="0.9" opacity="0.9"/>
<circle cx="87.8" cy="427.6" r="16.0" fill="url(#gr)"/>
<circle cx="122.2" cy="426.4" r="15.8" fill="url(#gd)"/>
<circle cx="142.5" cy="433.6" r="9.2" fill="url(#gr)"/>
<circle cx="107.4" cy="483.6" r="8.3" fill="url(#gr)"/>
<circle cx="70.6" cy="436.1" r="8.0" fill="url(#gr)"/>
<circle cx="119.3" cy="492.3" r="7.2" fill="url(#gr)"/>
<circle cx="168.9" cy="384.3" r="7.0" fill="url(#gb)"/>
<circle cx="138.9" cy="400.6" r="7.0" fill="url(#gb)"/>
<circle cx="77.8" cy="440.3" r="6.6" fill="url(#gr)"/>
<circle cx="167.2" cy="478.1" r="6.6" fill="url(#gb)" opacity="0.91"/>
<circle cx="145.5" cy="488.8" r="6.6" fill="url(#gr)"/>
<circle cx="91.9" cy="492.3" r="6.2" fill="url(#gr)"/>
<circle cx="146.5" cy="429.0" r="6.0" fill="url(#gr)"/>
<circle cx="126.9" cy="401.8" r="5.8" fill="url(#gb)"/>
<circle cx="160.6" cy="365.1" r="5.6" fill="url(#gb)"/>
<circle cx="182.3" cy="387.8" r="5.6" fill="url(#gb)"/>
<circle cx="114.5" cy="390.9" r="5.6" fill="url(#gb)"/>
<circle cx="62.4" cy="419.6" r="5.6" fill="url(#gb)"/>
<circle cx="51.2" cy="485.3" r="5.6" fill="url(#gb)" opacity="0.82"/>
<circle cx="160.2" cy="413.4" r="5.6" fill="url(#gb)"/>
<circle cx="177.5" cy="414.9" r="5.6" fill="url(#gb)"/>
<circle cx="141.0" cy="463.0" r="5.6" fill="url(#gb)"/>
<circle cx="73.7" cy="464.0" r="5.4" fill="url(#gb)"/>
<circle cx="153.8" cy="480.1" r="5.2" fill="url(#gr)"/>
<circle cx="135.2" cy="493.4" r="5.2" fill="url(#gr)"/>
<circle cx="143.0" cy="498.7" r="5.2" fill="url(#gr)"/>
<circle cx="80.5" cy="491.9" r="4.5" fill="url(#gr)"/>
<circle cx="111.0" cy="482.6" r="4.5" fill="url(#gr)"/>
<circle cx="91.7" cy="380.1" r="4.3" fill="url(#gb)"/>
<circle cx="42.9" cy="390.9" r="4.3" fill="url(#gb)"/>
<circle cx="115.2" cy="345.8" r="4.1" fill="url(#gb)"/>
<circle cx="144.1" cy="354.1" r="4.1" fill="url(#gb)"/>
<circle cx="169.9" cy="367.5" r="4.1" fill="url(#gb)"/>
<circle cx="133.8" cy="375.4" r="4.1" fill="url(#gb)"/>
<circle cx="120.3" cy="384.3" r="4.1" fill="url(#gb)"/>
<circle cx="170.9" cy="404.6" r="4.1" fill="url(#gb)"/>
<circle cx="44.0" cy="370.6" r="4.1" fill="url(#gb)"/>
<circle cx="54.7" cy="431.0" r="4.1" fill="url(#gr)"/>
<circle cx="28.9" cy="429.9" r="4.1" fill="url(#gb)"/>
<circle cx="56.8" cy="452.7" r="4.1" fill="url(#gb)"/>
<circle cx="62.4" cy="469.2" r="4.1" fill="url(#gb)"/>
<circle cx="73.7" cy="470.6" r="4.1" fill="url(#gr)"/>
<circle cx="84.1" cy="446.5" r="4.1" fill="url(#gb)"/>
<circle cx="83.6" cy="403.1" r="4.1" fill="url(#gb)"/>
<circle cx="93.4" cy="459.9" r="4.1" fill="url(#gb)" opacity="0.93"/>
<circle cx="109.5" cy="474.3" r="4.1" fill="url(#gr)"/>
<circle cx="108.4" cy="459.9" r="4.1" fill="url(#gr)"/>
<circle cx="117.7" cy="492.9" r="4.1" fill="url(#gr)"/>
<circle cx="112.6" cy="444.4" r="4.1" fill="url(#gb)" opacity="0.8"/>
<circle cx="115.7" cy="458.9" r="4.1" fill="url(#gb)" opacity="0.96"/>
<circle cx="170.9" cy="404.5" r="4.1" fill="url(#gb)"/>
<circle cx="183.9" cy="425.8" r="4.1" fill="url(#gb)"/>
<circle cx="183.7" cy="440.7" r="4.1" fill="url(#gb)"/>
<circle cx="130.7" cy="452.7" r="4.1" fill="url(#gb)"/>
<circle cx="148.6" cy="449.6" r="4.1" fill="url(#gb)"/>
<circle cx="141.0" cy="471.3" r="4.1" fill="url(#gr)"/>
<circle cx="48.9" cy="367.0" r="3.7" fill="url(#gb)"/>
<circle cx="94.0" cy="445.8" r="3.7" fill="url(#gb)"/>
<circle cx="74.8" cy="488.4" r="3.7" fill="url(#gr)"/>
<circle cx="75.4" cy="497.1" r="3.7" fill="url(#gr)"/>
<circle cx="129.2" cy="427.3" r="3.7" fill="url(#gb)"/>
<circle cx="131.3" cy="445.8" r="3.7" fill="url(#gb)"/>
<circle cx="70.2" cy="495.4" r="3.5" fill="url(#gr)"/>
<circle cx="96.0" cy="405.2" r="3.3" fill="url(#gb)"/>
<circle cx="104.0" cy="466.0" r="3.3" fill="url(#gr)" opacity="0.8"/>
<circle cx="160.0" cy="450.6" r="3.1" fill="url(#gb)"/>
<circle cx="101.0" cy="476.0" r="3.0" fill="url(#gr)" opacity="0.8"/>
<circle cx="71.5" cy="356.9" r="2.9" fill="url(#gb)"/>
<circle cx="55.4" cy="387.8" r="2.9" fill="url(#gr)"/>
<circle cx="94.3" cy="350.5" r="2.7" fill="url(#gr)"/>
<circle cx="93.3" cy="390.4" r="2.7" fill="url(#gb)"/>
<circle cx="35.1" cy="407.2" r="2.7" fill="url(#gr)"/>
<circle cx="40.7" cy="424.8" r="2.7" fill="url(#gb)"/>
<circle cx="29.3" cy="443.8" r="2.7" fill="url(#gb)"/>
<circle cx="47.5" cy="463.4" r="2.7" fill="url(#gb)"/>
<circle cx="63.0" cy="480.5" r="2.7" fill="url(#gr)"/>
<circle cx="172.4" cy="421.7" r="2.7" fill="url(#gb)"/>
<circle cx="167.8" cy="458.9" r="2.7" fill="url(#gb)"/>
<circle cx="130.0" cy="462.0" r="2.7" fill="url(#gb)"/>
<circle cx="153.4" cy="466.5" r="2.7" fill="url(#gb)"/>
<circle cx="178.2" cy="468.8" r="2.7" fill="url(#gb)"/>
<circle cx="154.0" cy="387.2" r="2.5" fill="url(#gb)"/>
<circle cx="95.0" cy="431.6" r="2.5" fill="url(#gb)"/>
<circle cx="156.9" cy="431.4" r="2.5" fill="url(#gr)"/>
<circle cx="95.2" cy="378.8" r="2.3" fill="url(#gr)"/>
<circle cx="114.1" cy="381.0" r="2.0" fill="url(#gr)"/>
<circle cx="60.9" cy="450.2" r="2.0" fill="url(#gr)"/>
<circle cx="44.4" cy="374.0" r="1.6" fill="url(#gr)"/>
<circle cx="91.0" cy="342.2" r="1.4" fill="url(#gb)"/>
<circle cx="74.3" cy="378.2" r="1.4" fill="url(#gb)"/>
<circle cx="25.2" cy="396.3" r="1.4" fill="url(#gb)"/>
<circle cx="38.8" cy="415.5" r="1.2" fill="url(#gr)"/>
<circle cx="35.5" cy="419.0" r="1.2" fill="url(#gb)"/>
<circle cx="37.8" cy="472.3" r="1.2" fill="url(#gb)"/>
<circle cx="71.3" cy="451.6" r="1.2" fill="url(#gb)"/>
<circle cx="75.8" cy="453.7" r="1.2" fill="url(#gb)"/>
<circle cx="85.7" cy="462.0" r="1.2" fill="url(#gb)"/>
<circle cx="90.3" cy="451.6" r="1.2" fill="url(#gr)"/>
<circle cx="169.9" cy="413.4" r="1.2" fill="url(#gb)"/>
<circle cx="119.3" cy="449.0" r="1.0" fill="url(#gb)"/>
<circle cx="124.0" cy="465.0" r="1.0" fill="url(#gb)"/>
<circle cx="143.0" cy="449.0" r="1.0" fill="url(#gb)"/>
</g>
<g>
<g clip-path="url(#c2)">
<rect x="232" y="314" width="252" height="190" fill="#fff" filter="url(#bump2)"/>
<path d="M293.6,487.6C288.0,487.1 285.5,486.4 282.3,484.7C279.0,483.1 276.1,480.2 274.0,477.7C271.9,475.2 270.6,472.3 269.9,469.6C269.2,466.9 270.4,463.8 269.9,461.4C269.4,459.1 268.9,457.8 266.8,455.4C264.7,453.1 259.8,450.4 257.5,447.4C255.1,444.4 253.6,441.1 252.7,437.4C251.9,433.7 251.9,429.6 252.4,425.2C252.8,420.9 254.1,415.8 255.4,411.1C256.8,406.4 259.1,400.2 260.6,396.9C262.2,393.7 263.0,394.3 264.7,391.8C266.4,389.3 268.7,385.7 270.8,382.1C273.0,378.5 275.1,373.9 277.6,370.1C280.1,366.3 283.0,362.6 285.8,359.4C288.5,356.1 291.3,353.4 294.1,350.8C296.8,348.1 299.3,345.6 302.2,343.4C305.2,341.1 308.6,339.0 311.8,337.3C314.9,335.7 317.9,334.2 321.3,333.4C324.8,332.6 328.4,332.7 332.3,332.7C336.1,332.7 341.1,333.1 344.4,333.4C347.7,333.7 348.4,333.8 351.9,334.3C355.4,334.9 361.0,335.7 365.5,336.7C370.1,337.8 374.6,339.1 379.2,340.7C383.7,342.2 388.3,344.1 392.9,346.0C397.4,347.9 402.0,349.8 406.5,352.0C411.1,354.3 416.1,357.0 420.2,359.4C424.3,361.7 427.6,363.6 431.1,366.2C434.6,368.7 437.9,371.5 441.0,374.7C444.2,377.8 447.3,381.9 450.0,385.2C452.7,388.6 455.3,391.3 457.4,395.0C459.5,398.6 461.1,402.7 462.5,407.1C463.9,411.5 465.1,416.8 465.6,421.2C466.1,425.6 466.1,429.3 465.6,433.3C465.1,437.4 464.2,441.9 462.5,445.4C460.8,449.0 458.6,452.0 455.3,454.5C452.0,457.0 447.3,459.0 442.9,460.5C438.4,462.0 432.9,462.9 428.4,463.6C424.0,464.3 418.5,463.5 416.1,464.5C413.7,465.5 414.7,467.4 414.0,469.6C413.3,471.8 413.4,475.3 412.0,477.7C410.6,480.0 408.5,482.2 405.7,483.7C403.0,485.2 400.1,486.3 395.4,486.9C390.8,487.5 383.4,487.4 377.8,487.4C372.3,487.4 367.9,486.7 362.0,486.7C356.1,486.7 350.3,487.3 342.6,487.5C335.0,487.7 324.4,487.7 316.2,487.7C308.1,487.7 299.3,488.1 293.6,487.6Z" fill="#fff" opacity="0.37" filter="url(#bl2)"/>
<path d="M284.3,499.4C277.9,498.8 275.1,498.0 271.4,496.1C267.7,494.2 264.4,490.8 262.0,487.9C259.6,485.0 258.1,481.6 257.3,478.5C256.5,475.4 257.9,471.8 257.3,469.0C256.7,466.2 256.2,464.7 253.8,462.0C251.5,459.3 245.9,456.2 243.2,452.7C240.5,449.2 238.8,445.3 237.8,441.0C236.8,436.7 236.9,432.0 237.4,426.9C237.9,421.8 239.3,416.0 240.9,410.5C242.5,405.0 245.1,397.8 246.8,394.0C248.6,390.2 249.5,390.9 251.4,388.0C253.3,385.1 255.9,380.9 258.4,376.7C260.8,372.5 263.3,367.2 266.1,362.8C268.9,358.4 272.3,354.1 275.4,350.3C278.5,346.6 281.7,343.4 284.8,340.3C287.9,337.2 290.8,334.3 294.1,331.7C297.5,329.1 301.3,326.6 304.9,324.7C308.5,322.8 311.9,321.0 315.8,320.1C319.7,319.2 323.8,319.3 328.2,319.3C332.6,319.3 338.3,319.8 342.0,320.1C345.7,320.4 346.5,320.6 350.5,321.2C354.5,321.8 360.8,322.8 366.0,324.0C371.2,325.2 376.3,326.8 381.5,328.6C386.7,330.4 391.9,332.6 397.1,334.8C402.3,337.0 407.4,339.2 412.6,341.8C417.8,344.4 423.5,347.6 428.1,350.3C432.8,353.0 436.6,355.2 440.5,358.2C444.4,361.2 448.2,364.4 451.8,368.1C455.4,371.8 458.9,376.5 462.0,380.4C465.1,384.3 468.0,387.5 470.4,391.7C472.8,395.9 474.6,400.7 476.2,405.8C477.8,410.9 479.1,417.1 479.7,422.2C480.3,427.3 480.3,431.6 479.7,436.3C479.1,441.0 478.1,446.3 476.2,450.4C474.2,454.5 471.7,458.0 468.0,460.9C464.3,463.8 459.0,466.1 453.9,467.9C448.8,469.7 442.6,470.7 437.5,471.5C432.4,472.3 426.2,471.4 423.5,472.6C420.8,473.8 421.9,475.9 421.1,478.5C420.3,481.1 420.4,485.2 418.8,487.9C417.2,490.6 414.8,493.1 411.7,494.9C408.6,496.7 405.3,497.9 400.0,498.6C394.7,499.3 386.3,499.2 380.0,499.2C373.7,499.2 368.7,498.4 362.0,498.4C355.3,498.4 348.7,499.1 340.0,499.3C331.3,499.5 319.3,499.5 310.0,499.5C300.7,499.5 290.7,500.0 284.3,499.4Z" fill="none" stroke="#8c8c8c" stroke-width="16" opacity="0.2" filter="url(#bl1)"/>
<path d="M284.3,499.4C277.9,498.8 275.1,498.0 271.4,496.1C267.7,494.2 264.4,490.8 262.0,487.9C259.6,485.0 258.1,481.6 257.3,478.5C256.5,475.4 257.9,471.8 257.3,469.0C256.7,466.2 256.2,464.7 253.8,462.0C251.5,459.3 245.9,456.2 243.2,452.7C240.5,449.2 238.8,445.3 237.8,441.0C236.8,436.7 236.9,432.0 237.4,426.9C237.9,421.8 239.3,416.0 240.9,410.5C242.5,405.0 245.1,397.8 246.8,394.0C248.6,390.2 249.5,390.9 251.4,388.0C253.3,385.1 255.9,380.9 258.4,376.7C260.8,372.5 263.3,367.2 266.1,362.8C268.9,358.4 272.3,354.1 275.4,350.3C278.5,346.6 281.7,343.4 284.8,340.3C287.9,337.2 290.8,334.3 294.1,331.7C297.5,329.1 301.3,326.6 304.9,324.7C308.5,322.8 311.9,321.0 315.8,320.1C319.7,319.2 323.8,319.3 328.2,319.3C332.6,319.3 338.3,319.8 342.0,320.1C345.7,320.4 346.5,320.6 350.5,321.2C354.5,321.8 360.8,322.8 366.0,324.0C371.2,325.2 376.3,326.8 381.5,328.6C386.7,330.4 391.9,332.6 397.1,334.8C402.3,337.0 407.4,339.2 412.6,341.8C417.8,344.4 423.5,347.6 428.1,350.3C432.8,353.0 436.6,355.2 440.5,358.2C444.4,361.2 448.2,364.4 451.8,368.1C455.4,371.8 458.9,376.5 462.0,380.4C465.1,384.3 468.0,387.5 470.4,391.7C472.8,395.9 474.6,400.7 476.2,405.8C477.8,410.9 479.1,417.1 479.7,422.2C480.3,427.3 480.3,431.6 479.7,436.3C479.1,441.0 478.1,446.3 476.2,450.4C474.2,454.5 471.7,458.0 468.0,460.9C464.3,463.8 459.0,466.1 453.9,467.9C448.8,469.7 442.6,470.7 437.5,471.5C432.4,472.3 426.2,471.4 423.5,472.6C420.8,473.8 421.9,475.9 421.1,478.5C420.3,481.1 420.4,485.2 418.8,487.9C417.2,490.6 414.8,493.1 411.7,494.9C408.6,496.7 405.3,497.9 400.0,498.6C394.7,499.3 386.3,499.2 380.0,499.2C373.7,499.2 368.7,498.4 362.0,498.4C355.3,498.4 348.7,499.1 340.0,499.3C331.3,499.5 319.3,499.5 310.0,499.5C300.7,499.5 290.7,500.0 284.3,499.4Z" fill="none" stroke="#909090" stroke-width="5" opacity="0.12" filter="url(#bl1)"/>
<path d="M287.3,496.2C281.1,495.6 278.4,494.9 274.8,493.0C271.3,491.2 268.1,488.0 265.8,485.1C263.5,482.3 262.0,479.1 261.3,476.1C260.5,473.1 261.8,469.6 261.3,466.9C260.7,464.3 260.2,462.8 257.9,460.2C255.7,457.6 250.3,454.6 247.7,451.3C245.1,447.9 243.4,444.1 242.5,440.0C241.6,435.9 241.6,431.3 242.1,426.4C242.6,421.6 244.0,415.9 245.5,410.7C247.0,405.4 249.5,398.4 251.2,394.8C252.9,391.2 253.7,391.8 255.6,389.0C257.5,386.3 260.0,382.2 262.3,378.2C264.7,374.1 267.0,369.0 269.7,364.8C272.5,360.6 275.7,356.4 278.7,352.8C281.7,349.2 284.7,346.1 287.7,343.1C290.7,340.2 293.5,337.4 296.7,334.9C299.9,332.4 303.6,330.0 307.1,328.1C310.5,326.3 313.8,324.6 317.6,323.7C321.3,322.8 325.3,322.9 329.5,322.9C333.7,322.9 339.2,323.4 342.8,323.7C346.3,324.0 347.1,324.1 350.9,324.8C354.8,325.4 360.9,326.3 365.8,327.5C370.8,328.6 375.8,330.2 380.8,331.9C385.7,333.6 390.8,335.7 395.8,337.8C400.8,340.0 405.7,342.1 410.7,344.6C415.6,347.1 421.1,350.1 425.6,352.8C430.1,355.4 433.7,357.5 437.5,360.4C441.3,363.2 444.9,366.3 448.4,369.9C451.8,373.4 455.2,377.9 458.2,381.7C461.2,385.5 464.0,388.5 466.3,392.6C468.6,396.7 470.4,401.3 471.9,406.1C473.4,411.0 474.7,417.0 475.2,421.9C475.8,426.8 475.8,431.0 475.2,435.5C474.7,440.0 473.7,445.1 471.9,449.1C470.0,453.0 467.5,456.3 464.0,459.2C460.4,462.0 455.3,464.2 450.4,465.9C445.5,467.6 439.5,468.6 434.6,469.4C429.8,470.1 423.8,469.3 421.2,470.4C418.5,471.5 419.6,473.6 418.9,476.1C418.1,478.5 418.1,482.5 416.6,485.1C415.1,487.8 412.8,490.1 409.8,491.9C406.8,493.6 403.6,494.7 398.6,495.4C393.5,496.1 385.4,496.0 379.3,496.0C373.2,496.0 368.4,495.2 362.0,495.2C355.6,495.2 349.2,495.9 340.8,496.1C332.5,496.3 320.9,496.3 312.0,496.3C303.0,496.3 293.4,496.7 287.3,496.2Z" fill="none" stroke="#8e8e8e" stroke-width="1.1" opacity="0.55" stroke-dasharray="16 7 25 10 9 14 30 8" stroke-linecap="round" filter="url(#bl1)"/>
<path d="M290.1,493.1C284.2,492.5 281.6,491.8 278.2,490.0C274.8,488.2 271.7,485.1 269.5,482.4C267.3,479.7 265.9,476.7 265.2,473.7C264.4,470.8 265.7,467.5 265.2,464.9C264.6,462.4 264.1,461.0 261.9,458.5C259.7,456.0 254.6,453.1 252.1,449.9C249.6,446.6 248.0,443.0 247.1,439.1C246.2,435.1 246.3,430.7 246.7,426.0C247.2,421.3 248.5,415.9 250.0,410.8C251.4,405.8 253.8,399.0 255.4,395.6C257.1,392.1 257.9,392.7 259.7,390.0C261.5,387.4 263.9,383.5 266.2,379.6C268.4,375.7 270.7,370.8 273.3,366.7C275.9,362.6 279.0,358.6 281.9,355.2C284.8,351.7 287.7,348.8 290.6,345.9C293.5,343.0 296.1,340.4 299.2,337.9C302.3,335.5 305.8,333.3 309.2,331.5C312.5,329.7 315.7,328.1 319.3,327.2C322.9,326.4 326.7,326.5 330.7,326.5C334.8,326.5 340.1,326.9 343.5,327.2C346.9,327.5 347.7,327.6 351.4,328.2C355.1,328.8 360.9,329.7 365.7,330.8C370.5,332.0 375.2,333.4 380.0,335.1C384.8,336.7 389.7,338.8 394.5,340.8C399.3,342.9 404.0,344.9 408.8,347.3C413.6,349.7 418.8,352.6 423.1,355.2C427.4,357.7 431.0,359.7 434.6,362.5C438.3,365.2 441.8,368.2 445.1,371.6C448.4,375.0 451.6,379.4 454.5,383.0C457.4,386.6 460.1,389.5 462.3,393.4C464.5,397.4 466.2,401.8 467.6,406.5C469.1,411.2 470.3,417.0 470.9,421.7C471.4,426.4 471.4,430.4 470.9,434.7C470.3,439.1 469.4,444.0 467.6,447.7C465.8,451.5 463.5,454.8 460.1,457.5C456.6,460.2 451.7,462.3 447.0,463.9C442.3,465.6 436.5,466.5 431.8,467.3C427.2,468.0 421.4,467.2 418.9,468.3C416.4,469.4 417.4,471.4 416.7,473.7C415.9,476.1 416.0,479.9 414.5,482.4C413.1,485.0 410.9,487.3 408.0,488.9C405.1,490.6 402.0,491.7 397.1,492.3C392.3,493.0 384.5,492.9 378.6,492.9C372.8,492.9 368.2,492.1 362.0,492.1C355.8,492.2 349.7,492.8 341.6,493.0C333.6,493.1 322.5,493.1 313.9,493.2C305.3,493.2 296.1,493.6 290.1,493.1Z" fill="none" stroke="#8e8e8e" stroke-width="1.1" opacity="0.4" stroke-dasharray="22 12 10 6 28 16 12 9" stroke-linecap="round" filter="url(#bl1)"/>
<ellipse cx="385" cy="372" rx="66" ry="28" fill="#fff" opacity="0.35" filter="url(#bl7)"/>
<path d="M312,418 Q318,396 350,394 Q392,390 414,410 Q424,428 398,438" fill="none" stroke="#9a9a9a" stroke-width="7" opacity="0.42" filter="url(#bl2)"/>
<path d="M398,438 Q372,450 352,450 Q330,448 318,438" fill="none" stroke="#a0a0a0" stroke-width="4" opacity="0.3" filter="url(#bl2)"/>
<path d="M258,462 Q300,440 345,452 Q372,470 360,497 L275,499 Q258,485 258,462Z" fill="#a0a0a0" opacity="0.28" filter="url(#bl2)"/>
<path d="M258,462 Q300,440 345,452 Q366,466 362,492" fill="none" stroke="#a0a0a0" stroke-width="1.4" opacity="0.6" filter="url(#bl1)"/>
<path d="M338,468 Q352,475 358,486 Q362,494 370,499" fill="none" stroke="#969696" stroke-width="2.2" opacity="0.5" filter="url(#bl1)"/>
<path d="M362,492 Q376,478 398,484 Q412,488 418,482" fill="none" stroke="#a0a0a0" stroke-width="3" opacity="0.3" filter="url(#bl2)"/>
<path d="M352,462 Q380,452 420,472" fill="none" stroke="#a8a8a8" stroke-width="1.4" opacity="0.6" filter="url(#bl1)"/>
<path d="M248,446 Q240,420 254,396 Q270,362 300,340 Q330,326 366,332" fill="none" stroke="#a8a8a8" stroke-width="1.3" opacity="0.7" filter="url(#bl1)"/>
<path d="M366,332 Q410,346 440,368 Q462,392 468,420 Q468,444 452,458" fill="none" stroke="#ababab" stroke-width="1.3" opacity="0.6" filter="url(#bl1)"/>
</g>
<path d="M284.3,499.4C277.9,498.8 275.1,498.0 271.4,496.1C267.7,494.2 264.4,490.8 262.0,487.9C259.6,485.0 258.1,481.6 257.3,478.5C256.5,475.4 257.9,471.8 257.3,469.0C256.7,466.2 256.2,464.7 253.8,462.0C251.5,459.3 245.9,456.2 243.2,452.7C240.5,449.2 238.8,445.3 237.8,441.0C236.8,436.7 236.9,432.0 237.4,426.9C237.9,421.8 239.3,416.0 240.9,410.5C242.5,405.0 245.1,397.8 246.8,394.0C248.6,390.2 249.5,390.9 251.4,388.0C253.3,385.1 255.9,380.9 258.4,376.7C260.8,372.5 263.3,367.2 266.1,362.8C268.9,358.4 272.3,354.1 275.4,350.3C278.5,346.6 281.7,343.4 284.8,340.3C287.9,337.2 290.8,334.3 294.1,331.7C297.5,329.1 301.3,326.6 304.9,324.7C308.5,322.8 311.9,321.0 315.8,320.1C319.7,319.2 323.8,319.3 328.2,319.3C332.6,319.3 338.3,319.8 342.0,320.1C345.7,320.4 346.5,320.6 350.5,321.2C354.5,321.8 360.8,322.8 366.0,324.0C371.2,325.2 376.3,326.8 381.5,328.6C386.7,330.4 391.9,332.6 397.1,334.8C402.3,337.0 407.4,339.2 412.6,341.8C417.8,344.4 423.5,347.6 428.1,350.3C432.8,353.0 436.6,355.2 440.5,358.2C444.4,361.2 448.2,364.4 451.8,368.1C455.4,371.8 458.9,376.5 462.0,380.4C465.1,384.3 468.0,387.5 470.4,391.7C472.8,395.9 474.6,400.7 476.2,405.8C477.8,410.9 479.1,417.1 479.7,422.2C480.3,427.3 480.3,431.6 479.7,436.3C479.1,441.0 478.1,446.3 476.2,450.4C474.2,454.5 471.7,458.0 468.0,460.9C464.3,463.8 459.0,466.1 453.9,467.9C448.8,469.7 442.6,470.7 437.5,471.5C432.4,472.3 426.2,471.4 423.5,472.6C420.8,473.8 421.9,475.9 421.1,478.5C420.3,481.1 420.4,485.2 418.8,487.9C417.2,490.6 414.8,493.1 411.7,494.9C408.6,496.7 405.3,497.9 400.0,498.6C394.7,499.3 386.3,499.2 380.0,499.2C373.7,499.2 368.7,498.4 362.0,498.4C355.3,498.4 348.7,499.1 340.0,499.3C331.3,499.5 319.3,499.5 310.0,499.5C300.7,499.5 290.7,500.0 284.3,499.4Z" fill="none" stroke="#bcbcbc" stroke-width="0.9" opacity="0.9"/>
<circle cx="355.7" cy="425.8" r="14.0" fill="url(#gr)"/>
<circle cx="381.8" cy="433.6" r="10.7" fill="url(#gr)"/>
<circle cx="390.5" cy="420.6" r="7.2" fill="url(#gr)"/>
<circle cx="270.1" cy="401.8" r="6.6" fill="url(#gb)"/>
<circle cx="321.3" cy="479.4" r="6.6" fill="url(#gr)"/>
<circle cx="318.0" cy="487.7" r="6.6" fill="url(#gr)"/>
<circle cx="335.7" cy="489.1" r="6.6" fill="url(#gr)"/>
<circle cx="301.4" cy="385.9" r="6.2" fill="url(#gb)"/>
<circle cx="396.9" cy="473.9" r="5.8" fill="url(#gb)"/>
<circle cx="358.8" cy="461.3" r="5.6" fill="url(#gb)"/>
<circle cx="287.6" cy="484.6" r="5.6" fill="url(#gr)"/>
<circle cx="305.8" cy="487.7" r="5.2" fill="url(#gr)"/>
<circle cx="346.0" cy="368.4" r="5.0" fill="url(#gb)"/>
<circle cx="339.2" cy="389.5" r="5.0" fill="url(#gb)"/>
<circle cx="276.3" cy="413.2" r="5.0" fill="url(#gb)"/>
<circle cx="442.7" cy="392.5" r="5.0" fill="url(#gb)"/>
<circle cx="296.9" cy="492.2" r="5.0" fill="url(#gr)"/>
<circle cx="427.2" cy="456.3" r="5.0" fill="url(#gb)"/>
<circle cx="395.7" cy="482.1" r="5.0" fill="url(#gb)" opacity="0.8"/>
<circle cx="371.5" cy="414.9" r="4.7" fill="url(#gb)"/>
<circle cx="290.3" cy="476.8" r="4.5" fill="url(#gr)"/>
<circle cx="309.7" cy="482.5" r="4.5" fill="url(#gr)"/>
<circle cx="276.3" cy="402.9" r="4.1" fill="url(#gb)"/>
<circle cx="272.4" cy="419.2" r="4.1" fill="url(#gb)"/>
<circle cx="301.4" cy="467.1" r="4.1" fill="url(#gr)"/>
<circle cx="335.5" cy="349.8" r="3.7" fill="url(#gb)"/>
<circle cx="303.1" cy="358.1" r="3.7" fill="url(#gb)"/>
<circle cx="419.6" cy="378.1" r="3.7" fill="url(#gb)"/>
<circle cx="292.2" cy="444.0" r="3.7" fill="url(#gb)"/>
<circle cx="334.1" cy="439.2" r="3.7" fill="url(#gb)"/>
<circle cx="327.2" cy="465.4" r="3.7" fill="url(#gb)" opacity="0.96"/>
<circle cx="441.7" cy="443.3" r="3.7" fill="url(#gb)"/>
<circle cx="445.8" cy="447.5" r="3.7" fill="url(#gb)"/>
<circle cx="316.5" cy="370.5" r="3.5" fill="url(#gb)"/>
<circle cx="400.8" cy="405.3" r="3.5" fill="url(#gb)"/>
<circle cx="291.1" cy="457.8" r="3.5" fill="url(#gr)"/>
<circle cx="296.3" cy="483.0" r="3.5" fill="url(#gr)"/>
<circle cx="439.6" cy="450.1" r="3.5" fill="url(#gb)"/>
<circle cx="346.4" cy="374.4" r="3.3" fill="url(#gb)"/>
<circle cx="307.2" cy="383.3" r="3.3" fill="url(#gb)"/>
<circle cx="296.9" cy="393.0" r="3.3" fill="url(#gb)"/>
<circle cx="368.4" cy="367.2" r="3.3" fill="url(#gb)"/>
<circle cx="282.5" cy="426.4" r="3.3" fill="url(#gb)"/>
<circle cx="275.2" cy="449.5" r="3.3" fill="url(#gb)" opacity="0.93"/>
<circle cx="349.5" cy="425.2" r="3.3" fill="url(#gb)"/>
<circle cx="285.6" cy="470.6" r="3.3" fill="url(#gr)"/>
<circle cx="369.4" cy="371.5" r="3.1" fill="url(#gb)"/>
<circle cx="280.8" cy="483.6" r="2.9" fill="url(#gr)"/>
<circle cx="299.0" cy="360.6" r="2.5" fill="url(#gb)"/>
<circle cx="322.7" cy="406.4" r="2.5" fill="url(#gb)"/>
<circle cx="368.6" cy="383.3" r="2.5" fill="url(#gr)"/>
<circle cx="420.0" cy="388.8" r="2.5" fill="url(#gb)"/>
<circle cx="344.4" cy="466.0" r="2.5" fill="url(#gb)"/>
<circle cx="382.9" cy="354.8" r="2.3" fill="url(#gr)"/>
<circle cx="395.7" cy="408.0" r="2.3" fill="url(#gr)"/>
<circle cx="424.5" cy="448.5" r="2.3" fill="url(#gb)"/>
<circle cx="396.3" cy="460.5" r="2.3" fill="url(#gb)"/>
<circle cx="360.5" cy="381.6" r="2.2" fill="url(#gr)"/>
<circle cx="424.7" cy="414.6" r="2.1" fill="url(#gr)"/>
<circle cx="277.7" cy="430.3" r="2.1" fill="url(#gb)"/>
<circle cx="324.1" cy="459.4" r="2.1" fill="url(#gb)"/>
<circle cx="326.8" cy="452.6" r="2.1" fill="url(#gr)"/>
<circle cx="399.4" cy="455.7" r="2.1" fill="url(#gb)"/>
<circle cx="379.1" cy="459.2" r="2.1" fill="url(#gr)"/>
<circle cx="421.0" cy="416.9" r="1.9" fill="url(#gr)"/>
<circle cx="361.3" cy="421.7" r="1.9" fill="url(#gb)"/>
<circle cx="417.5" cy="389.4" r="1.7" fill="url(#gr)"/>
<circle cx="344.0" cy="347.1" r="1.2" fill="url(#gb)"/>
<circle cx="334.0" cy="397.7" r="1.0" fill="url(#gb)"/>
<circle cx="314.4" cy="377.5" r="1.0" fill="url(#gr)"/>
<circle cx="377.3" cy="354.4" r="1.0" fill="url(#gb)"/>
<circle cx="416.3" cy="415.2" r="1.0" fill="url(#gr)"/>
<circle cx="335.1" cy="461.9" r="1.0" fill="url(#gb)"/>
<circle cx="351.6" cy="449.5" r="1.0" fill="url(#gb)"/>
<circle cx="353.0" cy="447.0" r="1.0" fill="url(#gb)"/>
<circle cx="310.9" cy="447.0" r="1.0" fill="url(#gr)"/>
<circle cx="382.9" cy="458.4" r="1.0" fill="url(#gr)"/>
<circle cx="419.6" cy="412.8" r="0.9" fill="url(#gb)"/>
<circle cx="420.6" cy="451.2" r="0.9" fill="url(#gr)"/>
<circle cx="402.9" cy="448.9" r="0.9" fill="url(#gb)"/>
<circle cx="331.0" cy="461.5" r="0.8" fill="url(#gr)"/>
</g>
<g>
<g clip-path="url(#c3)">
<rect x="500" y="280" width="209" height="253" fill="#fff" filter="url(#bump3)"/>
<path d="M601.0,522.7C603.7,521.9 601.1,519.0 601.3,517.8C601.5,516.6 602.0,515.6 602.3,515.6C602.7,515.6 603.2,516.6 603.6,517.8C603.9,519.0 603.0,521.9 604.3,522.7C605.5,523.5 609.7,523.1 611.2,522.7C612.7,522.2 610.8,521.1 613.4,520.0C616.0,519.0 622.5,517.8 626.9,516.5C631.3,515.1 635.7,514.1 639.9,512.0C644.1,509.9 648.5,506.9 652.1,504.0C655.7,501.1 658.6,497.4 661.7,494.7C664.7,491.9 667.8,490.4 670.4,487.6C672.9,484.9 674.9,481.1 676.9,478.2C678.9,475.3 680.4,473.3 682.1,470.2C683.9,467.1 685.8,462.8 687.3,459.5C688.9,456.2 690.0,453.3 691.3,450.2C692.5,447.0 694.0,444.1 694.7,440.8C695.5,437.5 695.8,434.7 695.9,430.1C695.9,425.6 695.7,418.7 695.2,413.5C694.7,408.3 693.7,403.8 692.9,398.9C692.1,394.0 691.2,389.2 690.3,384.3C689.4,379.4 688.3,373.9 687.3,369.7C686.3,365.5 685.4,362.0 684.3,358.9C683.2,355.8 682.2,354.0 680.9,351.1C679.7,348.2 678.4,344.6 676.8,341.4C675.2,338.2 673.4,334.8 671.4,331.7C669.4,328.6 667.2,325.4 664.7,322.8C662.3,320.2 659.6,318.0 656.6,315.9C653.7,313.7 650.3,311.7 647.2,309.6C644.0,307.5 640.8,305.2 637.7,303.4C634.5,301.6 631.4,299.7 628.3,298.9C625.1,298.1 621.5,298.2 618.8,298.6C616.1,299.0 613.9,300.2 612.1,301.3C610.3,302.5 609.1,305.3 608.0,305.5C606.9,305.8 606.7,303.8 605.3,302.8C604.0,301.7 601.1,300.0 599.9,299.3C598.8,298.6 600.3,298.8 598.4,298.9C596.6,298.9 592.1,299.0 588.9,299.7C585.8,300.3 582.7,301.5 579.6,302.8C576.4,304.1 573.2,305.7 570.1,307.6C566.9,309.4 563.6,311.6 560.7,313.8C557.7,316.0 555.0,318.1 552.5,320.7C550.0,323.2 547.8,325.7 545.8,328.9C543.8,332.2 542.1,336.1 540.4,340.1C538.7,344.0 537.0,348.7 535.7,352.4C534.4,356.2 533.3,359.6 532.4,362.5C531.5,365.4 531.2,366.4 530.4,369.7C529.6,373.0 528.5,377.6 527.4,382.2C526.2,386.7 524.5,392.0 523.3,396.8C522.0,401.7 520.7,406.6 519.8,411.4C518.9,416.3 518.1,421.6 517.8,426.0C517.5,430.5 517.6,434.5 518.0,438.1C518.3,441.8 518.9,444.5 519.7,447.9C520.5,451.3 521.5,455.3 522.9,458.6C524.3,461.9 526.2,464.8 528.1,468.0C530.1,471.1 532.5,474.2 534.7,477.3C536.8,480.4 538.8,483.6 541.2,486.7C543.6,489.8 546.0,492.9 549.0,496.0C552.0,499.1 555.2,502.3 559.0,505.3C562.8,508.4 568.3,511.7 571.8,514.1C575.3,516.6 577.7,518.6 579.9,520.0C582.1,521.4 581.6,522.2 585.1,522.7C588.6,523.1 598.3,523.5 601.0,522.7Z" fill="#fff" opacity="0.37" filter="url(#bl2)"/>
<path d="M600.3,536.0C600.3,535.1 600.4,531.8 600.6,530.5C600.9,529.2 601.4,528.0 601.8,528.0C602.2,528.0 602.8,529.2 603.2,530.5C603.6,531.8 602.5,535.1 604.0,536.0C605.5,536.9 610.2,536.5 612.0,536.0C613.8,535.5 611.5,534.2 614.5,533.0C617.5,531.8 624.9,530.5 630.0,529.0C635.1,527.5 640.2,526.3 645.0,524.0C649.8,521.7 654.8,518.2 659.0,515.0C663.2,511.8 666.5,507.6 670.0,504.5C673.5,501.4 677.1,499.7 680.0,496.6C682.9,493.5 685.2,489.3 687.5,486.0C689.8,482.7 691.5,480.5 693.5,477.0C695.5,473.5 697.8,468.8 699.5,465.0C701.2,461.2 702.6,458.0 704.0,454.5C705.4,451.0 707.1,447.8 708.0,444.0C708.9,440.2 709.2,437.1 709.3,432.0C709.4,426.9 709.1,419.2 708.5,413.3C707.9,407.4 706.8,402.4 705.9,396.9C705.0,391.4 704.0,386.0 702.9,380.5C701.8,375.0 700.5,368.9 699.4,364.1C698.2,359.4 697.2,355.5 696.0,352.0C694.8,348.5 693.5,346.5 692.1,343.2C690.7,339.9 689.2,335.9 687.4,332.3C685.6,328.7 683.5,324.9 681.2,321.4C678.9,317.9 676.3,314.4 673.5,311.4C670.7,308.4 667.6,306.1 664.2,303.6C660.8,301.1 656.9,298.9 653.3,296.6C649.7,294.3 646.0,291.6 642.4,289.6C638.8,287.6 635.2,285.4 631.6,284.5C628.0,283.6 623.8,283.7 620.7,284.2C617.6,284.7 615.1,286.0 613.0,287.3C610.9,288.6 609.6,291.7 608.3,292.0C607.0,292.3 606.8,290.1 605.2,288.9C603.7,287.7 600.3,285.7 599.0,285.0C597.7,284.3 599.4,284.4 597.3,284.5C595.2,284.6 590.0,284.7 586.4,285.4C582.8,286.1 579.2,287.4 575.6,288.9C572.0,290.4 568.3,292.2 564.7,294.3C561.1,296.4 557.3,298.9 553.9,301.3C550.5,303.8 547.4,306.2 544.5,309.0C541.6,311.8 539.1,314.7 536.8,318.3C534.5,321.9 532.5,326.4 530.6,330.8C528.7,335.2 526.7,340.5 525.2,344.7C523.7,348.9 522.4,352.8 521.4,356.0C520.4,359.2 520.1,360.4 519.1,364.1C518.1,367.8 517.0,373.0 515.6,378.1C514.2,383.2 512.4,389.1 510.9,394.6C509.4,400.1 507.9,405.5 506.9,411.0C505.8,416.5 505.0,422.4 504.6,427.4C504.2,432.4 504.4,436.9 504.8,441.0C505.2,445.1 505.9,448.2 506.8,452.0C507.8,455.8 508.9,460.2 510.5,464.0C512.1,467.8 514.2,471.0 516.5,474.5C518.8,478.0 521.5,481.5 524.0,485.0C526.5,488.5 528.8,492.1 531.5,495.6C534.2,499.1 537.1,502.5 540.5,506.0C543.9,509.5 547.6,513.1 552.0,516.5C556.4,519.9 562.7,523.6 566.7,526.4C570.7,529.1 573.5,531.4 576.0,533.0C578.5,534.6 581.0,535.5 582.0,536.0Z" fill="none" stroke="#8c8c8c" stroke-width="16" opacity="0.2" filter="url(#bl1)"/>
<path d="M600.3,536.0C600.3,535.1 600.4,531.8 600.6,530.5C600.9,529.2 601.4,528.0 601.8,528.0C602.2,528.0 602.8,529.2 603.2,530.5C603.6,531.8 602.5,535.1 604.0,536.0C605.5,536.9 610.2,536.5 612.0,536.0C613.8,535.5 611.5,534.2 614.5,533.0C617.5,531.8 624.9,530.5 630.0,529.0C635.1,527.5 640.2,526.3 645.0,524.0C649.8,521.7 654.8,518.2 659.0,515.0C663.2,511.8 666.5,507.6 670.0,504.5C673.5,501.4 677.1,499.7 680.0,496.6C682.9,493.5 685.2,489.3 687.5,486.0C689.8,482.7 691.5,480.5 693.5,477.0C695.5,473.5 697.8,468.8 699.5,465.0C701.2,461.2 702.6,458.0 704.0,454.5C705.4,451.0 707.1,447.8 708.0,444.0C708.9,440.2 709.2,437.1 709.3,432.0C709.4,426.9 709.1,419.2 708.5,413.3C707.9,407.4 706.8,402.4 705.9,396.9C705.0,391.4 704.0,386.0 702.9,380.5C701.8,375.0 700.5,368.9 699.4,364.1C698.2,359.4 697.2,355.5 696.0,352.0C694.8,348.5 693.5,346.5 692.1,343.2C690.7,339.9 689.2,335.9 687.4,332.3C685.6,328.7 683.5,324.9 681.2,321.4C678.9,317.9 676.3,314.4 673.5,311.4C670.7,308.4 667.6,306.1 664.2,303.6C660.8,301.1 656.9,298.9 653.3,296.6C649.7,294.3 646.0,291.6 642.4,289.6C638.8,287.6 635.2,285.4 631.6,284.5C628.0,283.6 623.8,283.7 620.7,284.2C617.6,284.7 615.1,286.0 613.0,287.3C610.9,288.6 609.6,291.7 608.3,292.0C607.0,292.3 606.8,290.1 605.2,288.9C603.7,287.7 600.3,285.7 599.0,285.0C597.7,284.3 599.4,284.4 597.3,284.5C595.2,284.6 590.0,284.7 586.4,285.4C582.8,286.1 579.2,287.4 575.6,288.9C572.0,290.4 568.3,292.2 564.7,294.3C561.1,296.4 557.3,298.9 553.9,301.3C550.5,303.8 547.4,306.2 544.5,309.0C541.6,311.8 539.1,314.7 536.8,318.3C534.5,321.9 532.5,326.4 530.6,330.8C528.7,335.2 526.7,340.5 525.2,344.7C523.7,348.9 522.4,352.8 521.4,356.0C520.4,359.2 520.1,360.4 519.1,364.1C518.1,367.8 517.0,373.0 515.6,378.1C514.2,383.2 512.4,389.1 510.9,394.6C509.4,400.1 507.9,405.5 506.9,411.0C505.8,416.5 505.0,422.4 504.6,427.4C504.2,432.4 504.4,436.9 504.8,441.0C505.2,445.1 505.9,448.2 506.8,452.0C507.8,455.8 508.9,460.2 510.5,464.0C512.1,467.8 514.2,471.0 516.5,474.5C518.8,478.0 521.5,481.5 524.0,485.0C526.5,488.5 528.8,492.1 531.5,495.6C534.2,499.1 537.1,502.5 540.5,506.0C543.9,509.5 547.6,513.1 552.0,516.5C556.4,519.9 562.7,523.6 566.7,526.4C570.7,529.1 573.5,531.4 576.0,533.0C578.5,534.6 581.0,535.5 582.0,536.0Z" fill="none" stroke="#909090" stroke-width="5" opacity="0.12" filter="url(#bl1)"/>
<path d="M600.5,531.4C603.5,530.5 600.6,527.4 600.8,526.1C601.0,524.8 601.5,523.7 602.0,523.7C602.4,523.7 603.0,524.8 603.3,526.1C603.7,527.4 602.7,530.5 604.1,531.4C605.5,532.3 610.1,531.9 611.8,531.4C613.5,530.9 611.3,529.6 614.2,528.5C617.1,527.4 624.2,526.1 629.1,524.7C634.0,523.2 638.9,522.1 643.5,519.9C648.2,517.6 653.0,514.3 657.0,511.2C661.0,508.1 664.2,504.0 667.6,501.1C670.9,498.1 674.4,496.5 677.2,493.5C680.0,490.5 682.2,486.4 684.4,483.3C686.6,480.2 688.3,478.0 690.2,474.6C692.1,471.3 694.3,466.7 695.9,463.1C697.6,459.5 698.9,456.4 700.3,453.0C701.6,449.6 703.3,446.5 704.1,442.9C705.0,439.3 705.3,436.3 705.4,431.4C705.5,426.4 705.2,419.0 704.6,413.4C704.1,407.7 703.0,402.8 702.1,397.6C701.2,392.3 700.3,387.1 699.2,381.8C698.2,376.6 697.0,370.6 695.9,366.0C694.7,361.5 693.8,357.7 692.6,354.4C691.4,351.0 690.2,349.1 688.8,345.9C687.4,342.8 686.1,338.9 684.3,335.4C682.6,331.9 680.6,328.3 678.3,325.0C676.1,321.6 673.7,318.2 670.9,315.3C668.2,312.5 665.2,310.2 662.0,307.8C658.7,305.5 655.0,303.3 651.5,301.1C648.0,298.9 644.5,296.3 641.0,294.4C637.5,292.4 634.1,290.3 630.6,289.5C627.1,288.6 623.1,288.7 620.1,289.2C617.2,289.6 614.7,290.9 612.7,292.2C610.7,293.4 609.5,296.4 608.2,296.7C607.0,296.9 606.7,294.8 605.2,293.7C603.7,292.6 600.5,290.6 599.3,289.9C598.0,289.2 599.7,289.4 597.6,289.5C595.6,289.5 590.6,289.6 587.1,290.3C583.7,291.0 580.2,292.3 576.8,293.7C573.3,295.1 569.7,296.9 566.3,298.9C562.8,300.9 559.1,303.3 555.9,305.6C552.6,308.0 549.6,310.3 546.8,313.0C544.1,315.8 541.7,318.5 539.4,322.0C537.2,325.5 535.3,329.8 533.5,334.0C531.6,338.2 529.7,343.3 528.3,347.4C526.8,351.4 525.6,355.1 524.6,358.2C523.6,361.4 523.3,362.5 522.4,366.0C521.5,369.6 520.3,374.6 519.0,379.5C517.7,384.4 515.9,390.1 514.5,395.4C513.1,400.7 511.7,405.9 510.7,411.2C509.7,416.4 508.8,422.1 508.5,426.9C508.1,431.7 508.3,436.1 508.6,440.0C509.0,444.0 509.7,446.9 510.6,450.6C511.5,454.3 512.6,458.5 514.1,462.1C515.7,465.7 517.7,468.9 519.9,472.2C522.1,475.6 524.7,479.0 527.1,482.3C529.5,485.7 531.7,489.2 534.3,492.5C537.0,495.9 539.7,499.2 543.0,502.5C546.3,505.9 549.9,509.4 554.1,512.6C558.3,515.9 564.3,519.5 568.2,522.2C572.0,524.8 574.7,527.0 577.1,528.5C579.6,530.1 579.0,530.9 582.9,531.4C586.8,531.9 597.5,532.3 600.5,531.4Z" fill="none" stroke="#8e8e8e" stroke-width="1.1" opacity="0.55" stroke-dasharray="16 7 25 10 9 14 30 8" stroke-linecap="round" filter="url(#bl1)"/>
<path d="M600.7,526.9C603.6,526.1 600.8,523.1 601.0,521.8C601.2,520.6 601.7,519.5 602.1,519.5C602.5,519.5 603.1,520.6 603.4,521.8C603.7,523.1 602.8,526.1 604.1,526.9C605.5,527.8 609.9,527.4 611.5,526.9C613.2,526.5 611.1,525.2 613.9,524.1C616.6,523.1 623.5,521.8 628.2,520.5C632.9,519.1 637.6,518.0 642.1,515.8C646.5,513.7 651.2,510.5 655.0,507.5C658.9,504.5 662.0,500.6 665.2,497.8C668.4,495.0 671.8,493.3 674.5,490.5C677.1,487.6 679.3,483.7 681.4,480.7C683.5,477.7 685.1,475.6 686.9,472.4C688.8,469.1 690.9,464.7 692.5,461.2C694.1,457.8 695.3,454.8 696.6,451.5C698.0,448.3 699.5,445.3 700.4,441.8C701.2,438.4 701.5,435.5 701.6,430.7C701.6,426.0 701.3,418.8 700.8,413.4C700.3,408.0 699.3,403.3 698.4,398.3C697.5,393.2 696.6,388.1 695.6,383.1C694.6,378.0 693.5,372.3 692.4,367.9C691.3,363.5 690.4,359.9 689.2,356.7C688.1,353.5 687.0,351.6 685.6,348.6C684.3,345.5 683.0,341.9 681.3,338.5C679.6,335.1 677.7,331.6 675.6,328.4C673.4,325.2 671.1,321.9 668.4,319.2C665.8,316.4 662.9,314.2 659.8,312.0C656.7,309.7 653.1,307.6 649.8,305.5C646.4,303.3 643.0,300.9 639.7,299.0C636.3,297.1 633.0,295.1 629.7,294.3C626.3,293.5 622.5,293.6 619.6,294.0C616.7,294.4 614.4,295.7 612.5,296.9C610.6,298.1 609.3,301.0 608.1,301.2C606.9,301.5 606.7,299.4 605.3,298.4C603.8,297.3 600.7,295.4 599.5,294.8C598.3,294.1 599.9,294.2 598.0,294.3C596.0,294.3 591.2,294.4 587.9,295.1C584.5,295.8 581.2,297.0 577.9,298.4C574.5,299.7 571.1,301.4 567.8,303.4C564.5,305.3 560.9,307.6 557.8,309.8C554.7,312.1 551.7,314.3 549.1,316.9C546.5,319.6 544.1,322.2 542.0,325.6C539.8,328.9 538.0,333.0 536.3,337.1C534.5,341.2 532.7,346.1 531.3,350.0C529.8,353.9 528.7,357.4 527.7,360.4C526.8,363.4 526.5,364.5 525.6,367.9C524.7,371.3 523.6,376.2 522.4,380.9C521.1,385.6 519.4,391.1 518.0,396.1C516.7,401.2 515.3,406.2 514.3,411.3C513.4,416.4 512.5,421.8 512.2,426.5C511.9,431.1 512.1,435.3 512.4,439.1C512.7,442.8 513.4,445.7 514.2,449.2C515.1,452.8 516.2,456.9 517.7,460.3C519.2,463.8 521.1,466.8 523.2,470.0C525.3,473.3 527.8,476.5 530.1,479.8C532.5,483.0 534.5,486.3 537.1,489.6C539.6,492.8 542.3,496.0 545.4,499.2C548.6,502.4 552.0,505.7 556.0,508.9C560.1,512.0 565.9,515.5 569.6,518.0C573.3,520.6 575.9,522.7 578.2,524.1C580.6,525.6 580.1,526.5 583.8,526.9C587.5,527.4 597.9,527.8 600.7,526.9Z" fill="none" stroke="#8e8e8e" stroke-width="1.1" opacity="0.4" stroke-dasharray="22 12 10 6 28 16 12 9" stroke-linecap="round" filter="url(#bl1)"/>
<ellipse cx="606" cy="330" rx="56" ry="30" fill="#fff" opacity="0.35" filter="url(#bl7)"/>
<path d="M541,348 Q524,372 517,406 Q518,430 528,438 Q552,436 578,426 Q594,408 599,372 Q590,358 572,354Z" fill="#fff" opacity="0.32" filter="url(#bl2)"/>
<path d="M541,348 Q524,372 517,406 Q518,430 528,438 Q552,436 578,426 Q594,408 599,372 Q590,358 572,354Z" fill="none" stroke="#a0a0a0" stroke-width="1.6" opacity="0.5" filter="url(#bl1)"/>
<path d="M673,348 Q690,372 697,406 Q696,430 686,438 Q662,436 636,426 Q620,408 615,372 Q624,358 642,354Z" fill="#fff" opacity="0.32" filter="url(#bl2)"/>
<path d="M673,348 Q690,372 697,406 Q696,430 686,438 Q662,436 636,426 Q620,408 615,372 Q624,358 642,354Z" fill="none" stroke="#a0a0a0" stroke-width="1.6" opacity="0.5" filter="url(#bl1)"/>
<path d="M607,446 Q590,428 572,430 Q545,434 532,456 Q528,480 540,496 Q562,514 592,520 Q604,518 607,510Z" fill="#fff" opacity="0.32" filter="url(#bl2)"/>
<path d="M607,446 Q590,428 572,430 Q545,434 532,456 Q528,480 540,496 Q562,514 592,520 Q604,518 607,510Z" fill="none" stroke="#a0a0a0" stroke-width="1.6" opacity="0.5" filter="url(#bl1)"/>
<path d="M609,446 Q626,428 644,430 Q671,434 684,456 Q688,480 676,496 Q654,514 624,520 Q612,518 609,510Z" fill="#fff" opacity="0.32" filter="url(#bl2)"/>
<path d="M609,446 Q626,428 644,430 Q671,434 684,456 Q688,480 676,496 Q654,514 624,520 Q612,518 609,510Z" fill="none" stroke="#a0a0a0" stroke-width="1.6" opacity="0.5" filter="url(#bl1)"/>
<path d="M590,352 Q606,344 622,352 L628,392 Q606,404 584,392Z" fill="#9a9a9a" opacity="0.42" filter="url(#bl2)"/>
<path d="M607.6,290 L607,352" stroke="#b8b8b8" stroke-width="1.4" fill="none" filter="url(#bl1)"/>
</g>
<path d="M600.3,536.0C600.3,535.1 600.4,531.8 600.6,530.5C600.9,529.2 601.4,528.0 601.8,528.0C602.2,528.0 602.8,529.2 603.2,530.5C603.6,531.8 602.5,535.1 604.0,536.0C605.5,536.9 610.2,536.5 612.0,536.0C613.8,535.5 611.5,534.2 614.5,533.0C617.5,531.8 624.9,530.5 630.0,529.0C635.1,527.5 640.2,526.3 645.0,524.0C649.8,521.7 654.8,518.2 659.0,515.0C663.2,511.8 666.5,507.6 670.0,504.5C673.5,501.4 677.1,499.7 680.0,496.6C682.9,493.5 685.2,489.3 687.5,486.0C689.8,482.7 691.5,480.5 693.5,477.0C695.5,473.5 697.8,468.8 699.5,465.0C701.2,461.2 702.6,458.0 704.0,454.5C705.4,451.0 707.1,447.8 708.0,444.0C708.9,440.2 709.2,437.1 709.3,432.0C709.4,426.9 709.1,419.2 708.5,413.3C707.9,407.4 706.8,402.4 705.9,396.9C705.0,391.4 704.0,386.0 702.9,380.5C701.8,375.0 700.5,368.9 699.4,364.1C698.2,359.4 697.2,355.5 696.0,352.0C694.8,348.5 693.5,346.5 692.1,343.2C690.7,339.9 689.2,335.9 687.4,332.3C685.6,328.7 683.5,324.9 681.2,321.4C678.9,317.9 676.3,314.4 673.5,311.4C670.7,308.4 667.6,306.1 664.2,303.6C660.8,301.1 656.9,298.9 653.3,296.6C649.7,294.3 646.0,291.6 642.4,289.6C638.8,287.6 635.2,285.4 631.6,284.5C628.0,283.6 623.8,283.7 620.7,284.2C617.6,284.7 615.1,286.0 613.0,287.3C610.9,288.6 609.6,291.7 608.3,292.0C607.0,292.3 606.8,290.1 605.2,288.9C603.7,287.7 600.3,285.7 599.0,285.0C597.7,284.3 599.4,284.4 597.3,284.5C595.2,284.6 590.0,284.7 586.4,285.4C582.8,286.1 579.2,287.4 575.6,288.9C572.0,290.4 568.3,292.2 564.7,294.3C561.1,296.4 557.3,298.9 553.9,301.3C550.5,303.8 547.4,306.2 544.5,309.0C541.6,311.8 539.1,314.7 536.8,318.3C534.5,321.9 532.5,326.4 530.6,330.8C528.7,335.2 526.7,340.5 525.2,344.7C523.7,348.9 522.4,352.8 521.4,356.0C520.4,359.2 520.1,360.4 519.1,364.1C518.1,367.8 517.0,373.0 515.6,378.1C514.2,383.2 512.4,389.1 510.9,394.6C509.4,400.1 507.9,405.5 506.9,411.0C505.8,416.5 505.0,422.4 504.6,427.4C504.2,432.4 504.4,436.9 504.8,441.0C505.2,445.1 505.9,448.2 506.8,452.0C507.8,455.8 508.9,460.2 510.5,464.0C512.1,467.8 514.2,471.0 516.5,474.5C518.8,478.0 521.5,481.5 524.0,485.0C526.5,488.5 528.8,492.1 531.5,495.6C534.2,499.1 537.1,502.5 540.5,506.0C543.9,509.5 547.6,513.1 552.0,516.5C556.4,519.9 562.7,523.6 566.7,526.4C570.7,529.1 573.5,531.4 576.0,533.0C578.5,534.6 581.0,535.5 582.0,536.0Z" fill="none" stroke="#bcbcbc" stroke-width="0.9" opacity="0.9"/>
<circle cx="588.4" cy="408.9" r="14.4" fill="url(#gd)"/>
<circle cx="620.0" cy="408.9" r="14.4" fill="url(#gd)"/>
<circle cx="573.6" cy="386.0" r="9.5" fill="url(#gd)"/>
<circle cx="638.9" cy="380.1" r="9.5" fill="url(#gd)"/>
<circle cx="629.8" cy="387.0" r="9.5" fill="url(#gd)"/>
<circle cx="584.4" cy="376.2" r="8.8" fill="url(#gd)"/>
<circle cx="664.4" cy="368.4" r="6.8" fill="url(#gb)" opacity="0.86"/>
<circle cx="605.5" cy="446.0" r="6.5" fill="url(#gr)" opacity="0.85"/>
<circle cx="665.1" cy="466.1" r="6.2" fill="url(#gb)"/>
<circle cx="636.9" cy="497.3" r="6.2" fill="url(#gb)"/>
<circle cx="638.9" cy="430.7" r="5.7" fill="url(#gr)"/>
<circle cx="622.7" cy="373.6" r="5.5" fill="url(#gd)"/>
<circle cx="591.5" cy="450.9" r="5.5" fill="url(#gr)"/>
<circle cx="619.1" cy="449.6" r="5.5" fill="url(#gr)"/>
<circle cx="642.7" cy="480.6" r="5.5" fill="url(#gr)"/>
<circle cx="606.4" cy="457.4" r="5.2" fill="url(#gr)" opacity="0.85"/>
<circle cx="575.6" cy="433.0" r="5.0" fill="url(#gr)" opacity="0.7"/>
<circle cx="552.6" cy="369.6" r="4.9" fill="url(#gb)" opacity="0.86"/>
<circle cx="612.9" cy="321.8" r="4.9" fill="url(#gb)"/>
<circle cx="613.6" cy="337.2" r="4.9" fill="url(#gb)"/>
<circle cx="673.6" cy="394.5" r="4.9" fill="url(#gb)"/>
<circle cx="563.2" cy="495.4" r="4.7" fill="url(#gb)"/>
<circle cx="638.9" cy="407.1" r="4.6" fill="url(#gb)"/>
<circle cx="580.1" cy="462.6" r="4.5" fill="url(#gr)"/>
<circle cx="657.6" cy="420.7" r="4.5" fill="url(#gb)"/>
<circle cx="633.2" cy="461.9" r="4.5" fill="url(#gr)"/>
<circle cx="650.6" cy="478.1" r="4.5" fill="url(#gr)"/>
<circle cx="624.7" cy="492.3" r="4.5" fill="url(#gb)"/>
<circle cx="656.4" cy="492.3" r="4.5" fill="url(#gb)"/>
<circle cx="678.8" cy="427.9" r="4.2" fill="url(#gb)"/>
<circle cx="641.4" cy="472.3" r="4.2" fill="url(#gr)"/>
<circle cx="573.0" cy="410.3" r="3.9" fill="url(#gb)" opacity="0.96"/>
<circle cx="593.5" cy="320.6" r="3.7" fill="url(#gb)"/>
<circle cx="593.3" cy="336.5" r="3.7" fill="url(#gb)"/>
<circle cx="549.9" cy="396.2" r="3.7" fill="url(#gb)"/>
<circle cx="628.5" cy="325.2" r="3.7" fill="url(#gb)"/>
<circle cx="645.6" cy="318.9" r="3.7" fill="url(#gb)"/>
<circle cx="631.2" cy="345.7" r="3.7" fill="url(#gb)"/>
<circle cx="656.1" cy="397.7" r="3.7" fill="url(#gb)"/>
<circle cx="544.4" cy="471.1" r="3.7" fill="url(#gb)"/>
<circle cx="531.2" cy="416.2" r="3.5" fill="url(#gb)"/>
<circle cx="545.6" cy="420.0" r="3.5" fill="url(#gb)"/>
<circle cx="563.1" cy="439.9" r="3.5" fill="url(#gb)"/>
<circle cx="557.4" cy="493.0" r="3.5" fill="url(#gb)"/>
<circle cx="680.1" cy="417.0" r="3.5" fill="url(#gb)"/>
<circle cx="665.8" cy="451.1" r="3.5" fill="url(#gb)"/>
<circle cx="556.0" cy="381.8" r="3.4" fill="url(#gr)"/>
<circle cx="667.3" cy="364.8" r="3.4" fill="url(#gb)" opacity="0.96"/>
<circle cx="583.4" cy="476.2" r="3.4" fill="url(#gb)"/>
<circle cx="574.6" cy="486.6" r="3.4" fill="url(#gr)"/>
<circle cx="583.4" cy="501.9" r="3.4" fill="url(#gb)"/>
<circle cx="591.5" cy="461.6" r="3.2" fill="url(#gb)"/>
<circle cx="571.4" cy="463.9" r="3.2" fill="url(#gr)"/>
<circle cx="563.2" cy="438.9" r="3.2" fill="url(#gb)"/>
<circle cx="608.0" cy="472.0" r="3.2" fill="url(#gr)" opacity="0.85"/>
<circle cx="608.7" cy="477.5" r="3.2" fill="url(#gr)" opacity="0.85"/>
<circle cx="608.7" cy="482.7" r="3.2" fill="url(#gr)" opacity="0.85"/>
<circle cx="613.6" cy="432.1" r="3.2" fill="url(#gb)"/>
<circle cx="641.4" cy="465.4" r="3.2" fill="url(#gb)"/>
<circle cx="629.7" cy="476.1" r="3.2" fill="url(#gb)"/>
<circle cx="619.3" cy="461.0" r="3.1" fill="url(#gb)"/>
<circle cx="679.3" cy="433.7" r="3.0" fill="url(#gb)"/>
<circle cx="627.2" cy="486.0" r="3.0" fill="url(#gb)"/>
<circle cx="574.6" cy="466.6" r="2.5" fill="url(#gr)"/>
<circle cx="561.3" cy="321.3" r="2.4" fill="url(#gr)"/>
<circle cx="556.5" cy="346.7" r="2.4" fill="url(#gr)"/>
<circle cx="537.2" cy="370.4" r="2.4" fill="url(#gr)"/>
<circle cx="593.3" cy="383.0" r="2.4" fill="url(#gr)"/>
<circle cx="656.1" cy="340.9" r="2.4" fill="url(#gb)"/>
<circle cx="651.2" cy="345.7" r="2.4" fill="url(#gb)"/>
<circle cx="656.4" cy="400.0" r="2.4" fill="url(#gb)"/>
<circle cx="594.7" cy="490.8" r="2.3" fill="url(#gb)"/>
<circle cx="594.1" cy="496.4" r="2.3" fill="url(#gb)"/>
<circle cx="595.5" cy="344.0" r="2.2" fill="url(#gr)"/>
<circle cx="542.4" cy="411.7" r="2.2" fill="url(#gb)"/>
<circle cx="531.7" cy="431.7" r="2.2" fill="url(#gb)"/>
<circle cx="596.5" cy="445.4" r="2.2" fill="url(#gb)"/>
<circle cx="564.1" cy="479.3" r="2.2" fill="url(#gr)"/>
<circle cx="668.8" cy="405.0" r="2.2" fill="url(#gb)"/>
<circle cx="650.1" cy="438.9" r="2.2" fill="url(#gb)"/>
<circle cx="611.2" cy="340.9" r="2.0" fill="url(#gr)"/>
<circle cx="653.6" cy="378.4" r="2.0" fill="url(#gr)"/>
<circle cx="612.9" cy="398.2" r="2.0" fill="url(#gr)"/>
<circle cx="572.3" cy="469.8" r="2.0" fill="url(#gb)"/>
<circle cx="673.8" cy="422.9" r="2.0" fill="url(#gb)"/>
<circle cx="628.2" cy="443.7" r="2.0" fill="url(#gb)"/>
<circle cx="576.0" cy="329.1" r="1.2" fill="url(#gb)"/>
<circle cx="574.3" cy="342.8" r="1.2" fill="url(#gb)"/>
<circle cx="540.4" cy="349.1" r="1.2" fill="url(#gr)"/>
<circle cx="549.4" cy="400.0" r="1.2" fill="url(#gb)"/>
<circle cx="538.2" cy="401.1" r="1.0" fill="url(#gb)"/>
<circle cx="590.1" cy="364.5" r="1.0" fill="url(#gr)"/>
<circle cx="666.3" cy="345.7" r="1.0" fill="url(#gb)"/>
<circle cx="613.1" cy="389.1" r="1.0" fill="url(#gb)"/>
<circle cx="617.3" cy="362.3" r="1.0" fill="url(#gb)"/>
<circle cx="526.9" cy="432.9" r="1.0" fill="url(#gb)"/>
<circle cx="539.9" cy="421.2" r="1.0" fill="url(#gb)"/>
<circle cx="537.9" cy="401.2" r="1.0" fill="url(#gb)"/>
<circle cx="546.1" cy="453.1" r="1.0" fill="url(#gr)"/>
<circle cx="622.7" cy="431.9" r="1.0" fill="url(#gb)"/>
<circle cx="640.2" cy="413.7" r="1.0" fill="url(#gb)"/>
<circle cx="614.5" cy="444.9" r="1.0" fill="url(#gb)"/>
<circle cx="656.8" cy="419.0" r="1.0" fill="url(#gb)"/>
</g>
</svg></body></html>
